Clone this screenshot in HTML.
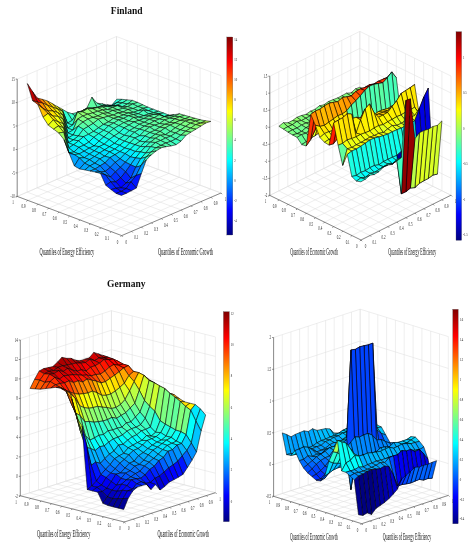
<!DOCTYPE html>
<html><head><meta charset="utf-8"><title>Finland Germany</title>
<style>
html,body{margin:0;padding:0;background:#fff}
svg{display:block}
.t{font-family:"Liberation Serif",serif;font-size:5.2px;fill:#222}
.c{font-family:"Liberation Serif",serif;font-size:4.8px;fill:#222}
.a{font-family:"Liberation Serif",serif;font-size:9.7px;fill:#111}
.h{font-family:"Liberation Serif",serif;font-size:9.5px;font-weight:bold;fill:#111}
</style></head><body>
<svg width="473" height="550" viewBox="0 0 473 550">
<rect width="473" height="550" fill="#fff"/>
<text x="126.7" y="14" class="h" text-anchor="middle">Finland</text>
<text x="126.3" y="287.3" class="h" text-anchor="middle">Germany</text>
<path d="M121.7 235.6L221 193M121.7 235.6L17.2 196.4M17.2 196.4L17.2 79.1M221 193L221 75.7M111.2 231.7L210.6 189.1M131.6 231.3L27.1 192.1M27.1 192.1L27.1 74.8M210.6 189.1L210.6 71.8M100.8 227.8L200.1 185.2M141.6 227.1L37.1 187.9M37.1 187.9L37.1 70.6M200.1 185.2L200.1 67.9M90.4 223.8L189.7 181.2M151.5 222.8L47 183.6M47 183.6L47 66.3M189.7 181.2L189.7 63.9M79.9 219.9L179.2 177.3M161.4 218.6L56.9 179.4M56.9 179.4L56.9 62.1M179.2 177.3L179.2 60M69.5 216L168.8 173.4M171.3 214.3L66.8 175.1M66.8 175.1L66.8 57.8M168.8 173.4L168.8 56.1M59 212.1L158.3 169.5M181.3 210L76.8 170.8M76.8 170.8L76.8 53.5M158.3 169.5L158.3 52.2M48.6 208.2L147.9 165.6M191.2 205.8L86.7 166.6M86.7 166.6L86.7 49.3M147.9 165.6L147.9 48.3M38.1 204.2L137.4 161.6M201.1 201.5L96.6 162.3M96.6 162.3L96.6 45M137.4 161.6L137.4 44.3M27.7 200.3L127 157.7M211.1 197.3L106.6 158.1M106.6 158.1L106.6 40.8M127 157.7L127 40.4M17.2 196.4L116.5 153.8M221 193L116.5 153.8M116.5 153.8L116.5 36.5M116.5 153.8L116.5 36.5M17.2 196.4L116.5 153.8M116.5 153.8L221 193M17.2 172.9L116.5 130.3M116.5 130.3L221 169.5M17.2 149.5L116.5 106.9M116.5 106.9L221 146.1M17.2 126L116.5 83.4M116.5 83.4L221 122.6M17.2 102.6L116.5 60M116.5 60L221 99.2M17.2 79.1L116.5 36.5M116.5 36.5L221 75.7" stroke="#dcdcdc" stroke-width="0.5" fill="none"/>
<path d="M17.2 79.1L17.2 196.4L121.7 235.6L221 193M121.7 235.6l-1.2 1.2M121.7 235.6l1.2 1.2M111.2 231.7l-1.2 1.2M131.6 231.3l1.2 1.2M100.8 227.8l-1.2 1.2M141.6 227.1l1.2 1.2M90.4 223.8l-1.2 1.2M151.5 222.8l1.2 1.2M79.9 219.9l-1.2 1.2M161.4 218.6l1.2 1.2M69.5 216l-1.2 1.2M171.3 214.3l1.2 1.2M59 212.1l-1.2 1.2M181.3 210l1.2 1.2M48.6 208.2l-1.2 1.2M191.2 205.8l1.2 1.2M38.1 204.2l-1.2 1.2M201.1 201.5l1.2 1.2M27.7 200.3l-1.2 1.2M211.1 197.3l1.2 1.2M17.2 196.4l-1.2 1.2M221 193l1.2 1.2M17.2 196.4l-1.5 0M17.2 172.9l-1.5 0M17.2 149.5l-1.5 0M17.2 126l-1.5 0M17.2 102.6l-1.5 0M17.2 79.1l-1.5 0" stroke="#444" stroke-width="0.6" fill="none"/>
<text transform="translate(117.5 243.6) scale(0.6 1)" class="t" text-anchor="middle">0</text>
<text transform="translate(126.2 243.6) scale(0.6 1)" class="t" text-anchor="middle">0</text>
<text transform="translate(107 239.7) scale(0.6 1)" class="t" text-anchor="middle">0.1</text>
<text transform="translate(136.1 239.3) scale(0.6 1)" class="t" text-anchor="middle">0.1</text>
<text transform="translate(96.6 235.8) scale(0.6 1)" class="t" text-anchor="middle">0.2</text>
<text transform="translate(146.1 235.1) scale(0.6 1)" class="t" text-anchor="middle">0.2</text>
<text transform="translate(86.2 231.8) scale(0.6 1)" class="t" text-anchor="middle">0.3</text>
<text transform="translate(156 230.8) scale(0.6 1)" class="t" text-anchor="middle">0.3</text>
<text transform="translate(75.7 227.9) scale(0.6 1)" class="t" text-anchor="middle">0.4</text>
<text transform="translate(165.9 226.6) scale(0.6 1)" class="t" text-anchor="middle">0.4</text>
<text transform="translate(65.2 224) scale(0.6 1)" class="t" text-anchor="middle">0.5</text>
<text transform="translate(175.8 222.3) scale(0.6 1)" class="t" text-anchor="middle">0.5</text>
<text transform="translate(54.8 220.1) scale(0.6 1)" class="t" text-anchor="middle">0.6</text>
<text transform="translate(185.8 218) scale(0.6 1)" class="t" text-anchor="middle">0.6</text>
<text transform="translate(44.4 216.2) scale(0.6 1)" class="t" text-anchor="middle">0.7</text>
<text transform="translate(195.7 213.8) scale(0.6 1)" class="t" text-anchor="middle">0.7</text>
<text transform="translate(33.9 212.2) scale(0.6 1)" class="t" text-anchor="middle">0.8</text>
<text transform="translate(205.6 209.5) scale(0.6 1)" class="t" text-anchor="middle">0.8</text>
<text transform="translate(23.5 208.3) scale(0.6 1)" class="t" text-anchor="middle">0.9</text>
<text transform="translate(215.6 205.3) scale(0.6 1)" class="t" text-anchor="middle">0.9</text>
<text transform="translate(13 204.4) scale(0.6 1)" class="t" text-anchor="middle">1</text>
<text transform="translate(225.5 201) scale(0.6 1)" class="t" text-anchor="middle">1</text>
<text transform="translate(14.7 198.1) scale(0.6 1)" class="t" text-anchor="end">-10</text>
<text transform="translate(14.7 174.6) scale(0.6 1)" class="t" text-anchor="end">-5</text>
<text transform="translate(14.7 151.2) scale(0.6 1)" class="t" text-anchor="end">0</text>
<text transform="translate(14.7 127.7) scale(0.6 1)" class="t" text-anchor="end">5</text>
<text transform="translate(14.7 104.3) scale(0.6 1)" class="t" text-anchor="end">10</text>
<text transform="translate(14.7 80.8) scale(0.6 1)" class="t" text-anchor="end">15</text>
<text transform="translate(66.9 254.8) scale(0.456 1)" class="a" text-anchor="middle">Quantiles of Energy Efficiency</text>
<text transform="translate(185.5 254.8) scale(0.455 1)" class="a" text-anchor="middle">Quantiles of Economic Growth</text>
<g stroke="#000" stroke-width="0.55" stroke-linejoin="round">
<path d="M117 102.5L111.8 105.1L116.8 99.2L122 99.3Z" fill="#27ffd8"/>
<path d="M122.2 102.9L117 102.5L122 99.3L127.2 99.9Z" fill="#38ffc7"/>
<path d="M112.1 106.2L106.8 104.9L111.8 105.1L117 102.5Z" fill="#16ffe9"/>
<path d="M127.5 104L122.2 102.9L127.2 99.9L132.4 100.4Z" fill="#42ffbd"/>
<path d="M117.3 105.2L112.1 106.2L117 102.5L122.2 102.9Z" fill="#37ffc8"/>
<path d="M107.1 106.2L101.9 103.8L106.8 104.9L112.1 106.2Z" fill="#2dffd2"/>
<path d="M132.7 104L127.5 104L132.4 100.4L137.7 102.4Z" fill="#57ffa8"/>
<path d="M122.5 106.7L117.3 105.2L122.2 102.9L127.5 104Z" fill="#3bffc4"/>
<path d="M112.3 106.1L107.1 106.2L112.1 106.2L117.3 105.2Z" fill="#44ffbb"/>
<path d="M102.1 105.7L96.9 103.1L101.9 103.8L107.1 106.2Z" fill="#4affb5"/>
<path d="M137.9 106.5L132.7 104L137.7 102.4L142.9 104.8Z" fill="#51ffae"/>
<path d="M127.7 106.6L122.5 106.7L127.5 104L132.7 104Z" fill="#52ffad"/>
<path d="M117.5 105.7L112.3 106.1L117.3 105.2L122.5 106.7Z" fill="#5effa1"/>
<path d="M107.3 106.5L102.1 105.7L107.1 106.2L112.3 106.1Z" fill="#57ffa8"/>
<path d="M97.2 107.4L91.9 97.2L96.9 103.1L102.1 105.7Z" fill="#4fffb0"/>
<path d="M143.1 108.3L137.9 106.5L142.9 104.8L148.1 107.2Z" fill="#53ffac"/>
<path d="M133 108.6L127.7 106.6L132.7 104L137.9 106.5Z" fill="#51ffae"/>
<path d="M102.4 107L97.2 107.4L102.1 105.7L107.3 106.5Z" fill="#68ff97"/>
<path d="M92.2 108.2L87 107.8L91.9 97.2L97.2 107.4Z" fill="#5dffa2"/>
<path d="M122.8 108.3L117.5 105.7L122.5 106.7L127.7 106.6Z" fill="#56ffa9"/>
<path d="M112.6 107.4L107.3 106.5L112.3 106.1L117.5 105.7Z" fill="#62ff9d"/>
<path d="M148.4 110.7L143.1 108.3L148.1 107.2L153.3 109.2Z" fill="#37ffc8"/>
<path d="M138.2 110.6L133 108.6L137.9 106.5L143.1 108.3Z" fill="#51ffae"/>
<path d="M97.4 107.6L92.2 108.2L97.2 107.4L102.4 107Z" fill="#79ff86"/>
<path d="M87.2 108.5L82 110.9L87 107.8L92.2 108.2Z" fill="#71ff8e"/>
<path d="M128 109.4L122.8 108.3L127.7 106.6L133 108.6Z" fill="#60ff9f"/>
<path d="M117.8 109.9L112.6 107.4L117.5 105.7L122.8 108.3Z" fill="#5cffa3"/>
<path d="M107.6 109.6L102.4 107L107.3 106.5L112.6 107.4Z" fill="#61ff9e"/>
<path d="M153.6 112.6L148.4 110.7L153.3 109.2L158.6 111.2Z" fill="#37ffc8"/>
<path d="M143.4 110.2L138.2 110.6L143.1 108.3L148.4 110.7Z" fill="#53ffac"/>
<path d="M133.2 112.3L128 109.4L133 108.6L138.2 110.6Z" fill="#55ffaa"/>
<path d="M123 112.1L117.8 109.9L122.8 108.3L128 109.4Z" fill="#5affa5"/>
<path d="M112.8 110.4L107.6 109.6L112.6 107.4L117.8 109.9Z" fill="#6eff91"/>
<path d="M102.6 110L97.4 107.6L102.4 107L107.6 109.6Z" fill="#75ff8a"/>
<path d="M92.5 108.7L87.2 108.5L92.2 108.2L97.4 107.6Z" fill="#85ff7a"/>
<path d="M82.3 110.8L77 112.5L82 110.9L87.2 108.5Z" fill="#6fff90"/>
<path d="M158.8 113.7L153.6 112.6L158.6 111.2L163.8 113.1Z" fill="#41ffbe"/>
<path d="M148.6 114L143.4 110.2L148.4 110.7L153.6 112.6Z" fill="#3fffc0"/>
<path d="M138.4 113.8L133.2 112.3L138.2 110.6L143.4 110.2Z" fill="#43ffbc"/>
<path d="M128.2 113L123 112.1L128 109.4L133.2 112.3Z" fill="#66ff99"/>
<path d="M118.1 112.9L112.8 110.4L117.8 109.9L123 112.1Z" fill="#68ff97"/>
<path d="M107.9 113L102.6 110L107.6 109.6L112.8 110.4Z" fill="#69ff96"/>
<path d="M97.7 111.3L92.5 108.7L97.4 107.6L102.6 110Z" fill="#7dff82"/>
<path d="M87.5 108.6L82.3 110.8L87.2 108.5L92.5 108.7Z" fill="#9dff62"/>
<path d="M77.3 117.3L72.1 113.7L77 112.5L82.3 110.8Z" fill="#3fffc0"/>
<path d="M164 116.6L158.8 113.7L163.8 113.1L169 115.1Z" fill="#36ffc9"/>
<path d="M153.9 114.4L148.6 114L153.6 112.6L158.8 113.7Z" fill="#50ffaf"/>
<path d="M143.7 115.7L138.4 113.8L143.4 110.2L148.6 114Z" fill="#44ffbb"/>
<path d="M133.5 114.6L128.2 113L133.2 112.3L138.4 113.8Z" fill="#52ffad"/>
<path d="M123.3 115L118.1 112.9L123 112.1L128.2 113Z" fill="#66ff99"/>
<path d="M113.1 115.1L107.9 113L112.8 110.4L118.1 112.9Z" fill="#67ff98"/>
<path d="M102.9 113.3L97.7 111.3L102.6 110L107.9 113Z" fill="#7dff82"/>
<path d="M92.7 112.9L87.5 108.6L92.5 108.7L97.7 111.3Z" fill="#83ff7c"/>
<path d="M82.5 111.9L77.3 117.3L82.3 110.8L87.5 108.6Z" fill="#90ff6f"/>
<path d="M72.3 120.3L67.1 112.1L72.1 113.7L77.3 117.3Z" fill="#36ffc9"/>
<path d="M169.3 115.9L164 116.6L169 115.1L174.2 114.7Z" fill="#53ffac"/>
<path d="M159.1 114.8L153.9 114.4L158.8 113.7L164 116.6Z" fill="#61ff9e"/>
<path d="M128.5 115.8L123.3 115L128.2 113L133.5 114.6Z" fill="#5cffa3"/>
<path d="M118.3 117L113.1 115.1L118.1 112.9L123.3 115Z" fill="#68ff97"/>
<path d="M108.1 116.2L102.9 113.3L107.9 113L113.1 115.1Z" fill="#73ff8c"/>
<path d="M77.6 111.9L72.3 120.3L77.3 117.3L82.5 111.9Z" fill="#a7ff58"/>
<path d="M67.4 123.2L62.1 109.1L67.1 112.1L72.3 120.3Z" fill="#2dffd2"/>
<path d="M148.9 116L143.7 115.7L148.6 114L153.9 114.4Z" fill="#56ffa9"/>
<path d="M138.7 117.2L133.5 114.6L138.4 113.8L143.7 115.7Z" fill="#4bffb4"/>
<path d="M97.9 116L92.7 112.9L97.7 111.3L102.9 113.3Z" fill="#77ff88"/>
<path d="M87.8 114.2L82.5 111.9L87.5 108.6L92.7 112.9Z" fill="#8cff73"/>
<path d="M174.5 116.3L169.3 115.9L174.2 114.7L179.5 113.8Z" fill="#65ff9a"/>
<path d="M123.5 118.4L118.3 117L123.3 115L128.5 115.8Z" fill="#57ffa8"/>
<path d="M113.4 118.4L108.1 116.2L113.1 115.1L118.3 117Z" fill="#70ff8f"/>
<path d="M62.4 111.2L57.2 106.5L62.1 109.1L67.4 123.2Z" fill="#c8ff37"/>
<path d="M164.3 116.7L159.1 114.8L164 116.6L169.3 115.9Z" fill="#62ff9d"/>
<path d="M154.1 117.8L148.9 116L153.9 114.4L159.1 114.8Z" fill="#58ffa7"/>
<path d="M143.9 118.5L138.7 117.2L143.7 115.7L148.9 116Z" fill="#52ffad"/>
<path d="M133.7 117.4L128.5 115.8L133.5 114.6L138.7 117.2Z" fill="#60ff9f"/>
<path d="M103.2 117.8L97.9 116L102.9 113.3L108.1 116.2Z" fill="#79ff86"/>
<path d="M93 117.4L87.8 114.2L92.7 112.9L97.9 116Z" fill="#7fff80"/>
<path d="M82.8 116L77.6 111.9L82.5 111.9L87.8 114.2Z" fill="#90ff6f"/>
<path d="M72.6 125.2L67.4 123.2L72.3 120.3L77.6 111.9Z" fill="#2dffd2"/>
<path d="M179.7 116.8L174.5 116.3L179.5 113.8L184.7 115.3Z" fill="#75ff8a"/>
<path d="M169.5 118.2L164.3 116.7L169.3 115.9L174.5 116.3Z" fill="#67ff98"/>
<path d="M159.3 119.1L154.1 117.8L159.1 114.8L164.3 116.7Z" fill="#5fffa0"/>
<path d="M149.2 119.3L143.9 118.5L148.9 116L154.1 117.8Z" fill="#5fffa0"/>
<path d="M139 120.4L133.7 117.4L138.7 117.2L143.9 118.5Z" fill="#54ffab"/>
<path d="M128.8 121L123.5 118.4L128.5 115.8L133.7 117.4Z" fill="#50ffaf"/>
<path d="M118.6 120L113.4 118.4L118.3 117L123.5 118.4Z" fill="#5cffa3"/>
<path d="M108.4 121.9L103.2 117.8L108.1 116.2L113.4 118.4Z" fill="#61ff9e"/>
<path d="M98.2 119.3L93 117.4L97.9 116L103.2 117.8Z" fill="#7fff80"/>
<path d="M88 119L82.8 116L87.8 114.2L93 117.4Z" fill="#84ff7b"/>
<path d="M77.8 118.9L72.6 125.2L77.6 111.9L82.8 116Z" fill="#88ff77"/>
<path d="M67.6 128.1L62.4 111.2L67.4 123.2L72.6 125.2Z" fill="#24ffdb"/>
<path d="M57.4 108.9L52.2 103.5L57.2 106.5L62.4 111.2Z" fill="#f9ff06"/>
<path d="M184.9 118.8L179.7 116.8L184.7 115.3L189.9 116.8Z" fill="#74ff8b"/>
<path d="M52.5 107.1L47.3 100.9L52.2 103.5L57.4 108.9Z" fill="#ffd900"/>
<path d="M174.8 118.9L169.5 118.2L174.5 116.3L179.7 116.8Z" fill="#75ff8a"/>
<path d="M164.6 120L159.3 119.1L164.3 116.7L169.5 118.2Z" fill="#6bff94"/>
<path d="M144.2 122.3L139 120.4L143.9 118.5L149.2 119.3Z" fill="#55ffaa"/>
<path d="M134 121.9L128.8 121L133.7 117.4L139 120.4Z" fill="#5cffa3"/>
<path d="M123.8 122.6L118.6 120L123.5 118.4L128.8 121Z" fill="#56ffa9"/>
<path d="M113.6 123.1L108.4 121.9L113.4 118.4L118.6 120Z" fill="#52ffad"/>
<path d="M103.4 124.4L98.2 119.3L103.2 117.8L108.4 121.9Z" fill="#5cffa3"/>
<path d="M93.2 123.4L88 119L93 117.4L98.2 119.3Z" fill="#6aff95"/>
<path d="M72.9 130.1L67.6 128.1L72.6 125.2L77.8 118.9Z" fill="#24ffdb"/>
<path d="M62.7 114.9L57.4 108.9L62.4 111.2L67.6 128.1Z" fill="#ccff33"/>
<path d="M154.4 121L149.2 119.3L154.1 117.8L159.3 119.1Z" fill="#62ff9d"/>
<path d="M83 122L77.8 118.9L82.8 116L88 119Z" fill="#7bff84"/>
<path d="M190.2 119.8L184.9 118.8L189.9 116.8L195.1 118.3Z" fill="#7fff80"/>
<path d="M47.5 105.3L42.3 99.3L47.3 100.9L52.5 107.1Z" fill="#ffaf00"/>
<path d="M180 120.4L174.8 118.9L179.7 116.8L184.9 118.8Z" fill="#7bff84"/>
<path d="M169.8 122.5L164.6 120L169.5 118.2L174.8 118.9Z" fill="#65ff9a"/>
<path d="M159.6 123.5L154.4 121L159.3 119.1L164.6 120Z" fill="#5cffa3"/>
<path d="M149.4 123.8L144.2 122.3L149.2 119.3L154.4 121Z" fill="#5bffa4"/>
<path d="M139.2 124.3L134 121.9L139 120.4L144.2 122.3Z" fill="#57ffa8"/>
<path d="M129 125.1L123.8 122.6L128.8 121L134 121.9Z" fill="#50ffaf"/>
<path d="M118.8 125.6L113.6 123.1L118.6 120L123.8 122.6Z" fill="#4cffb3"/>
<path d="M108.7 125.8L103.4 124.4L108.4 121.9L113.6 123.1Z" fill="#4cffb3"/>
<path d="M98.5 127.8L93.2 123.4L98.2 119.3L103.4 124.4Z" fill="#4fffb0"/>
<path d="M88.3 126.4L83 122L88 119L93.2 123.4Z" fill="#60ff9f"/>
<path d="M78.1 126.1L72.9 130.1L77.8 118.9L83 122Z" fill="#65ff9a"/>
<path d="M67.9 133L62.7 114.9L67.6 128.1L72.9 130.1Z" fill="#1bffe4"/>
<path d="M57.7 112.6L52.5 107.1L57.4 108.9L62.7 114.9Z" fill="#feff01"/>
<path d="M195.4 121.1L190.2 119.8L195.1 118.3L200.4 119.8Z" fill="#86ff79"/>
<path d="M185.2 121.1L180 120.4L184.9 118.8L190.2 119.8Z" fill="#87ff78"/>
<path d="M175 122.9L169.8 122.5L174.8 118.9L180 120.4Z" fill="#76ff89"/>
<path d="M154.6 125.2L149.4 123.8L154.4 121L159.6 123.5Z" fill="#60ff9f"/>
<path d="M144.4 126.2L139.2 124.3L144.2 122.3L149.4 123.8Z" fill="#57ffa8"/>
<path d="M134.3 127.8L129 125.1L134 121.9L139.2 124.3Z" fill="#48ffb7"/>
<path d="M103.7 130.3L98.5 127.8L103.4 124.4L108.7 125.8Z" fill="#32ffcd"/>
<path d="M93.5 131.4L88.3 126.4L93.2 123.4L98.5 127.8Z" fill="#3fffc0"/>
<path d="M83.3 129.3L78.1 126.1L83 122L88.3 126.4Z" fill="#58ffa7"/>
<path d="M62.9 119L57.7 112.6L62.7 114.9L67.9 133Z" fill="#cdff32"/>
<path d="M52.7 110.9L47.5 105.3L52.5 107.1L57.7 112.6Z" fill="#ffd600"/>
<path d="M42.5 103L37.3 98.1L42.3 99.3L47.5 105.3Z" fill="#ff7e00"/>
<path d="M164.8 124.3L159.6 123.5L164.6 120L169.8 122.5Z" fill="#69ff96"/>
<path d="M124.1 127.9L118.8 125.6L123.8 122.6L129 125.1Z" fill="#49ffb6"/>
<path d="M113.9 128.6L108.7 125.8L113.6 123.1L118.8 125.6Z" fill="#43ffbc"/>
<path d="M73.1 135L67.9 133L72.9 130.1L78.1 126.1Z" fill="#1bffe4"/>
<path d="M200.6 123.2L195.4 121.1L200.4 119.8L205.6 120.8Z" fill="#84ff7b"/>
<path d="M190.4 123.2L185.2 121.1L190.2 119.8L195.4 121.1Z" fill="#86ff79"/>
<path d="M180.2 124.5L175 122.9L180 120.4L185.2 121.1Z" fill="#7aff85"/>
<path d="M149.7 127.1L144.4 126.2L149.4 123.8L154.6 125.2Z" fill="#63ff9c"/>
<path d="M88.5 134.3L83.3 129.3L88.3 126.4L93.5 131.4Z" fill="#37ffc8"/>
<path d="M58 116.3L52.7 110.9L57.7 112.6L62.9 119Z" fill="#fffc00"/>
<path d="M47.8 110.9L42.5 103L47.5 105.3L52.7 110.9Z" fill="#ffbf00"/>
<path d="M37.6 102.2L32.4 91.3L37.3 98.1L42.5 103Z" fill="#e70000"/>
<path d="M170.1 125.1L164.8 124.3L169.8 122.5L175 122.9Z" fill="#75ff8a"/>
<path d="M159.9 127.2L154.6 125.2L159.6 123.5L164.8 124.3Z" fill="#60ff9f"/>
<path d="M139.5 129.2L134.3 127.8L139.2 124.3L144.4 126.2Z" fill="#4effb1"/>
<path d="M129.3 130.6L124.1 127.9L129 125.1L134.3 127.8Z" fill="#41ffbe"/>
<path d="M119.1 132.7L113.9 128.6L118.8 125.6L124.1 127.9Z" fill="#2cffd3"/>
<path d="M108.9 132.5L103.7 130.3L108.7 125.8L113.9 128.6Z" fill="#30ffcf"/>
<path d="M98.7 133.6L93.5 131.4L98.5 127.8L103.7 130.3Z" fill="#25ffda"/>
<path d="M78.3 136L73.1 135L78.1 126.1L83.3 129.3Z" fill="#26ffd9"/>
<path d="M68.2 138L62.9 119L67.9 133L73.1 135Z" fill="#12ffed"/>
<path d="M205.8 123L200.6 123.2L205.6 120.8L210.8 121.4Z" fill="#b3ff4c"/>
<path d="M195.7 124.6L190.4 123.2L195.4 121.1L200.6 123.2Z" fill="#8cff73"/>
<path d="M185.5 126.4L180.2 124.5L185.2 121.1L190.4 123.2Z" fill="#7bff84"/>
<path d="M165.1 128L159.9 127.2L164.8 124.3L170.1 125.1Z" fill="#6dff92"/>
<path d="M154.9 130.3L149.7 127.1L154.6 125.2L159.9 127.2Z" fill="#56ffa9"/>
<path d="M144.7 130.6L139.5 129.2L144.4 126.2L149.7 127.1Z" fill="#54ffab"/>
<path d="M93.8 137.3L88.5 134.3L93.5 131.4L98.7 133.6Z" fill="#2bffd4"/>
<path d="M83.6 136.7L78.3 136L83.3 129.3L88.5 134.3Z" fill="#33ffcc"/>
<path d="M73.4 139.9L68.2 138L73.1 135L78.3 136Z" fill="#12ffed"/>
<path d="M53 116.1L47.8 110.9L52.7 110.9L58 116.3Z" fill="#ffe300"/>
<path d="M42.8 108.4L37.6 102.2L42.5 103L47.8 110.9Z" fill="#ff8c00"/>
<path d="M32.6 100.6L27.4 83.6L32.4 91.3L37.6 102.2Z" fill="#c20000"/>
<path d="M175.3 127.8L170.1 125.1L175 122.9L180.2 124.5Z" fill="#6dff92"/>
<path d="M134.5 132.3L129.3 130.6L134.3 127.8L139.5 129.2Z" fill="#44ffbb"/>
<path d="M124.3 135.3L119.1 132.7L124.1 127.9L129.3 130.6Z" fill="#24ffdb"/>
<path d="M114.1 136L108.9 132.5L113.9 128.6L119.1 132.7Z" fill="#35ffca"/>
<path d="M103.9 136.9L98.7 133.6L103.7 130.3L108.9 132.5Z" fill="#2dffd2"/>
<path d="M63.2 123.7L58 116.3L62.9 119L68.2 138Z" fill="#c5ff3a"/>
<path d="M160.1 131.4L154.9 130.3L159.9 127.2L165.1 128Z" fill="#5fffa0"/>
<path d="M78.6 140.9L73.4 139.9L78.3 136L83.6 136.7Z" fill="#1dffe2"/>
<path d="M200.9 126.1L195.7 124.6L200.6 123.2L205.8 123Z" fill="#a9ff56"/>
<path d="M190.7 128.1L185.5 126.4L190.4 123.2L195.7 124.6Z" fill="#7eff81"/>
<path d="M180.5 129.9L175.3 127.8L180.2 124.5L185.5 126.4Z" fill="#6cff93"/>
<path d="M170.3 131.5L165.1 128L170.1 125.1L175.3 127.8Z" fill="#5cffa3"/>
<path d="M149.9 132.5L144.7 130.6L149.7 127.1L154.9 130.3Z" fill="#54ffab"/>
<path d="M139.7 135.7L134.5 132.3L139.5 129.2L144.7 130.6Z" fill="#34ffcb"/>
<path d="M119.4 139L114.1 136L119.1 132.7L124.3 135.3Z" fill="#2affd5"/>
<path d="M99 141.1L93.8 137.3L98.7 133.6L103.9 136.9Z" fill="#17ffe8"/>
<path d="M88.8 142.1L83.6 136.7L88.5 134.3L93.8 137.3Z" fill="#0efff1"/>
<path d="M68.4 142.9L63.2 123.7L68.2 138L73.4 139.9Z" fill="#09fff6"/>
<path d="M58.2 121.8L53 116.1L58 116.3L63.2 123.7Z" fill="#f3ff0c"/>
<path d="M48 113.4L42.8 108.4L47.8 110.9L53 116.1Z" fill="#ffae00"/>
<path d="M37.8 104.4L32.6 100.6L37.6 102.2L42.8 108.4Z" fill="#ff4900"/>
<path d="M129.6 136.4L124.3 135.3L129.3 130.6L134.5 132.3Z" fill="#2dffd2"/>
<path d="M109.2 139.6L103.9 136.9L108.9 132.5L114.1 136Z" fill="#26ffd9"/>
<path d="M165.3 134.7L160.1 131.4L165.1 128L170.3 131.5Z" fill="#50ffaf"/>
<path d="M155.2 134.3L149.9 132.5L154.9 130.3L160.1 131.4Z" fill="#56ffa9"/>
<path d="M83.8 145.2L78.6 140.9L83.6 136.7L88.8 142.1Z" fill="#03fffc"/>
<path d="M73.6 144.8L68.4 142.9L73.4 139.9L78.6 140.9Z" fill="#09fff6"/>
<path d="M195.9 129.2L190.7 128.1L195.7 124.6L200.9 126.1Z" fill="#87ff78"/>
<path d="M185.7 131.2L180.5 129.9L185.5 126.4L190.7 128.1Z" fill="#73ff8c"/>
<path d="M175.5 133L170.3 131.5L175.3 127.8L180.5 129.9Z" fill="#61ff9e"/>
<path d="M145 136L139.7 135.7L144.7 130.6L149.9 132.5Z" fill="#45ffba"/>
<path d="M134.8 138L129.6 136.4L134.5 132.3L139.7 135.7Z" fill="#32ffcd"/>
<path d="M124.6 141.2L119.4 139L124.3 135.3L129.6 136.4Z" fill="#27ffd8"/>
<path d="M114.4 143.4L109.2 139.6L114.1 136L119.4 139Z" fill="#12ffed"/>
<path d="M104.2 144.2L99 141.1L103.9 136.9L109.2 139.6Z" fill="#0afff5"/>
<path d="M94 145.9L88.8 142.1L93.8 137.3L99 141.1Z" fill="#00f9ff"/>
<path d="M63.4 127.8L58.2 121.8L63.2 123.7L68.4 142.9Z" fill="#c6ff39"/>
<path d="M53.3 119.8L48 113.4L53 116.1L58.2 121.8Z" fill="#ffde00"/>
<path d="M43.1 117.2L37.8 104.4L42.8 108.4L48 113.4Z" fill="#ffc000"/>
<path d="M170.6 136.2L165.3 134.7L170.3 131.5L175.5 133Z" fill="#56ffa9"/>
<path d="M68.7 147.8L63.4 127.8L68.4 142.9L73.6 144.8Z" fill="#00ffff"/>
<path d="M180.8 135.2L175.5 133L180.5 129.9L185.7 131.2Z" fill="#5fffa0"/>
<path d="M160.4 135.3L155.2 134.3L160.1 131.4L165.3 134.7Z" fill="#61ff9e"/>
<path d="M150.2 138L145 136L149.9 132.5L155.2 134.3Z" fill="#45ffba"/>
<path d="M129.8 142.9L124.6 141.2L129.6 136.4L134.8 138Z" fill="#2bffd4"/>
<path d="M109.4 146.7L104.2 144.2L109.2 139.6L114.4 143.4Z" fill="#04fffb"/>
<path d="M89.1 148.1L83.8 145.2L88.8 142.1L94 145.9Z" fill="#00f7ff"/>
<path d="M78.9 147.4L73.6 144.8L78.6 140.9L83.8 145.2Z" fill="#02fffd"/>
<path d="M58.5 125.9L53.3 119.8L58.2 121.8L63.4 127.8Z" fill="#f2ff0d"/>
<path d="M190.9 132.2L185.7 131.2L190.7 128.1L195.9 129.2Z" fill="#7dff82"/>
<path d="M140 141.2L134.8 138L139.7 135.7L145 136Z" fill="#24ffdb"/>
<path d="M119.6 145.3L114.4 143.4L119.4 139L124.6 141.2Z" fill="#12ffed"/>
<path d="M99.2 146.6L94 145.9L99 141.1L104.2 144.2Z" fill="#07fff8"/>
<path d="M48.3 125.2L43.1 117.2L48 113.4L53.3 119.8Z" fill="#fbff04"/>
<path d="M186 135.3L180.8 135.2L185.7 131.2L190.9 132.2Z" fill="#73ff8c"/>
<path d="M175.8 139L170.6 136.2L175.5 133L180.8 135.2Z" fill="#4cffb3"/>
<path d="M165.6 138.1L160.4 135.3L165.3 134.7L170.6 136.2Z" fill="#58ffa7"/>
<path d="M73.9 152L68.7 147.8L73.6 144.8L78.9 147.4Z" fill="#00e6ff"/>
<path d="M63.7 132.3L58.5 125.9L63.4 127.8L68.7 147.8Z" fill="#c1ff3e"/>
<path d="M53.5 129.1L48.3 125.2L53.3 119.8L58.5 125.9Z" fill="#e7ff18"/>
<path d="M155.4 138.3L150.2 138L155.2 134.3L160.4 135.3Z" fill="#58ffa7"/>
<path d="M145.2 142L140 141.2L145 136L150.2 138Z" fill="#30ffcf"/>
<path d="M135 144.7L129.8 142.9L134.8 138L140 141.2Z" fill="#2cffd3"/>
<path d="M124.8 148L119.6 145.3L124.6 141.2L129.8 142.9Z" fill="#09fff6"/>
<path d="M114.7 149.1L109.4 146.7L114.4 143.4L119.6 145.3Z" fill="#00feff"/>
<path d="M104.5 149.9L99.2 146.6L104.2 144.2L109.4 146.7Z" fill="#00f8ff"/>
<path d="M94.3 150.8L89.1 148.1L94 145.9L99.2 146.6Z" fill="#00efff"/>
<path d="M84.1 151.2L78.9 147.4L83.8 145.2L89.1 148.1Z" fill="#00edff"/>
<path d="M181 141.2L175.8 139L180.8 135.2L186 135.3Z" fill="#49ffb6"/>
<path d="M170.8 141.4L165.6 138.1L170.6 136.2L175.8 139Z" fill="#49ffb6"/>
<path d="M160.6 140.5L155.4 138.3L160.4 135.3L165.6 138.1Z" fill="#54ffab"/>
<path d="M140.3 146.5L135 144.7L140 141.2L145.2 142Z" fill="#2effd1"/>
<path d="M119.9 151.6L114.7 149.1L119.6 145.3L124.8 148Z" fill="#00f8ff"/>
<path d="M99.5 153L94.3 150.8L99.2 146.6L104.5 149.9Z" fill="#00edff"/>
<path d="M79.1 154L73.9 152L78.9 147.4L84.1 151.2Z" fill="#00e5ff"/>
<path d="M68.9 152.7L63.7 132.3L68.7 147.8L73.9 152Z" fill="#00f6ff"/>
<path d="M58.7 132.9L53.5 129.1L58.5 125.9L63.7 132.3Z" fill="#d2ff2d"/>
<path d="M150.4 142.2L145.2 142L150.2 138L155.4 138.3Z" fill="#44ffbb"/>
<path d="M130.1 149.4L124.8 148L129.8 142.9L135 144.7Z" fill="#0ffff0"/>
<path d="M109.7 151.9L104.5 149.9L109.4 146.7L114.7 149.1Z" fill="#00f7ff"/>
<path d="M89.3 154.1L84.1 151.2L89.1 148.1L94.3 150.8Z" fill="#00e3ff"/>
<path d="M176.1 144.7L170.8 141.4L175.8 139L181 141.2Z" fill="#3affc5"/>
<path d="M165.9 143L160.6 140.5L165.6 138.1L170.8 141.4Z" fill="#4fffb0"/>
<path d="M155.7 142.5L150.4 142.2L155.4 138.3L160.6 140.5Z" fill="#56ffa9"/>
<path d="M145.5 146.7L140.3 146.5L145.2 142L150.4 142.2Z" fill="#2affd5"/>
<path d="M135.3 151.5L130.1 149.4L135 144.7L140.3 146.5Z" fill="#0efff1"/>
<path d="M125.1 153.6L119.9 151.6L124.8 148L130.1 149.4Z" fill="#00f8ff"/>
<path d="M114.9 154.7L109.7 151.9L114.7 149.1L119.9 151.6Z" fill="#00eeff"/>
<path d="M104.7 156.2L99.5 153L104.5 149.9L109.7 151.9Z" fill="#00dfff"/>
<path d="M94.5 156.5L89.3 154.1L94.3 150.8L99.5 153Z" fill="#00deff"/>
<path d="M84.3 157.7L79.1 154L84.1 151.2L89.3 154.1Z" fill="#00d3ff"/>
<path d="M74.2 154.6L68.9 152.7L73.9 152L79.1 154Z" fill="#00f6ff"/>
<path d="M64 139.6L58.7 132.9L63.7 132.3L68.9 152.7Z" fill="#9eff61"/>
<path d="M130.3 156.8L125.1 153.6L130.1 149.4L135.3 151.5Z" fill="#00eaff"/>
<path d="M110 157.6L104.7 156.2L109.7 151.9L114.9 154.7Z" fill="#00e6ff"/>
<path d="M171.1 145.9L165.9 143L170.8 141.4L176.1 144.7Z" fill="#44ffbb"/>
<path d="M160.9 145.4L155.7 142.5L160.6 140.5L165.9 143Z" fill="#4cffb3"/>
<path d="M150.7 146.6L145.5 146.7L150.4 142.2L155.7 142.5Z" fill="#40ffbf"/>
<path d="M140.5 151.9L135.3 151.5L140.3 146.5L145.5 146.7Z" fill="#1fffe0"/>
<path d="M120.1 158.8L114.9 154.7L119.9 151.6L125.1 153.6Z" fill="#00d7ff"/>
<path d="M99.8 158.9L94.5 156.5L99.5 153L104.7 156.2Z" fill="#00d9ff"/>
<path d="M89.6 159.7L84.3 157.7L89.3 154.1L94.5 156.5Z" fill="#00d2ff"/>
<path d="M79.4 157.9L74.2 154.6L79.1 154L84.3 157.7Z" fill="#00e8ff"/>
<path d="M69.2 153.3L64 139.6L68.9 152.7L74.2 154.6Z" fill="#1effe1"/>
<path d="M155.9 147.8L150.7 146.6L155.7 142.5L160.9 145.4Z" fill="#49ffb6"/>
<path d="M135.6 157.9L130.3 156.8L135.3 151.5L140.5 151.9Z" fill="#00f4ff"/>
<path d="M125.4 162.2L120.1 158.8L125.1 153.6L130.3 156.8Z" fill="#00c6ff"/>
<path d="M115.2 162.4L110 157.6L114.9 154.7L120.1 158.8Z" fill="#00adff"/>
<path d="M105 162.9L99.8 158.9L104.7 156.2L110 157.6Z" fill="#00c3ff"/>
<path d="M84.6 163.2L79.4 157.9L84.3 157.7L89.6 159.7Z" fill="#00c3ff"/>
<path d="M166.1 146.7L160.9 145.4L165.9 143L171.1 145.9Z" fill="#54ffab"/>
<path d="M145.7 153L140.5 151.9L145.5 146.7L150.7 146.6Z" fill="#29ffd6"/>
<path d="M94.8 163.2L89.6 159.7L94.5 156.5L99.8 158.9Z" fill="#00c1ff"/>
<path d="M74.4 166L69.2 153.3L74.2 154.6L79.4 157.9Z" fill="#00a6ff"/>
<path d="M161.2 147.8L155.9 147.8L160.9 145.4L166.1 146.7Z" fill="#5effa1"/>
<path d="M140.8 158.5L135.6 157.9L140.5 151.9L145.7 153Z" fill="#04fffb"/>
<path d="M120.4 167.4L115.2 162.4L120.1 158.8L125.4 162.2Z" fill="#008bff"/>
<path d="M100 165.8L94.8 163.2L99.8 158.9L105 162.9Z" fill="#00bbff"/>
<path d="M79.6 168.9L74.4 166L79.4 157.9L84.6 163.2Z" fill="#009cff"/>
<path d="M151 152.1L145.7 153L150.7 146.6L155.9 147.8Z" fill="#31ffce"/>
<path d="M130.6 164.8L125.4 162.2L130.3 156.8L135.6 157.9Z" fill="#00bfff"/>
<path d="M110.2 167.5L105 162.9L110 157.6L115.2 162.4Z" fill="#008cff"/>
<path d="M89.8 165.9L84.6 163.2L89.6 159.7L94.8 163.2Z" fill="#00baff"/>
<path d="M146 157.1L140.8 158.5L145.7 153L151 152.1Z" fill="#29ffd6"/>
<path d="M125.6 171.8L120.4 167.4L125.4 162.2L130.6 164.8Z" fill="#0070ff"/>
<path d="M115.4 171.8L110.2 167.5L115.2 162.4L120.4 167.4Z" fill="#0072ff"/>
<path d="M95.1 169.1L89.8 165.9L94.8 163.2L100 165.8Z" fill="#00adff"/>
<path d="M156.2 150.9L151 152.1L155.9 147.8L161.2 147.8Z" fill="#54ffab"/>
<path d="M135.8 167.2L130.6 164.8L135.6 157.9L140.8 158.5Z" fill="#00bbff"/>
<path d="M105.2 171.4L100 165.8L105 162.9L110.2 167.5Z" fill="#0078ff"/>
<path d="M84.9 169.9L79.6 168.9L84.6 163.2L89.8 165.9Z" fill="#00a6ff"/>
<path d="M151.2 154.9L146 157.1L151 152.1L156.2 150.9Z" fill="#56ffa9"/>
<path d="M130.8 178.2L125.6 171.8L130.6 164.8L135.8 167.2Z" fill="#0040ff"/>
<path d="M120.7 177.9L115.4 171.8L120.4 167.4L125.6 171.8Z" fill="#0045ff"/>
<path d="M110.5 177.1L105.2 171.4L110.2 167.5L115.4 171.8Z" fill="#0050ff"/>
<path d="M90.1 171L84.9 169.9L89.8 165.9L95.1 169.1Z" fill="#00b0ff"/>
<path d="M141 165.7L135.8 167.2L140.8 158.5L146 157.1Z" fill="#00e1ff"/>
<path d="M100.3 172L95.1 169.1L100 165.8L105.2 171.4Z" fill="#0089ff"/>
<path d="M136.1 175.5L130.8 178.2L135.8 167.2L141 165.7Z" fill="#0073ff"/>
<path d="M125.9 183.2L120.7 177.9L125.6 171.8L130.8 178.2Z" fill="#0020ff"/>
<path d="M115.7 181.9L110.5 177.1L115.4 171.8L120.7 177.9Z" fill="#0030ff"/>
<path d="M105.5 174.9L100.3 172L105.2 171.4L110.5 177.1Z" fill="#007fff"/>
<path d="M146.3 159.9L141 165.7L146 157.1L151.2 154.9Z" fill="#37ffc8"/>
<path d="M95.3 172L90.1 171L95.1 169.1L100.3 172Z" fill="#00a1ff"/>
<path d="M141.3 173.7L136.1 175.5L141 165.7L146.3 159.9Z" fill="#009cff"/>
<path d="M100.5 173.5L95.3 172L100.3 172L105.5 174.9Z" fill="#00a6ff"/>
<path d="M131.1 181.9L125.9 183.2L130.8 178.2L136.1 175.5Z" fill="#0043ff"/>
<path d="M120.9 187.8L115.7 181.9L120.7 177.9L125.9 183.2Z" fill="#0005ff"/>
<path d="M110.7 181.8L105.5 174.9L110.5 177.1L115.7 181.9Z" fill="#0049ff"/>
<path d="M136.3 188.1L131.1 181.9L136.1 175.5L141.3 173.7Z" fill="#0016ff"/>
<path d="M105.8 185.3L100.5 173.5L105.5 174.9L110.7 181.8Z" fill="#003aff"/>
<path d="M126.1 188.5L120.9 187.8L125.9 183.2L131.1 181.9Z" fill="#0013ff"/>
<path d="M116 188.2L110.7 181.8L115.7 181.9L120.9 187.8Z" fill="#0018ff"/>
<path d="M131.4 190.7L126.1 188.5L131.1 181.9L136.3 188.1Z" fill="#0011ff"/>
<path d="M121.2 191.4L116 188.2L120.9 187.8L126.1 188.5Z" fill="#000aff"/>
<path d="M111 189.6L105.8 185.3L110.7 181.8L116 188.2Z" fill="#0020ff"/>
<path d="M126.4 193.3L121.2 191.4L126.1 188.5L131.4 190.7Z" fill="#000cff"/>
<path d="M116.2 193.4L111 189.6L116 188.2L121.2 191.4Z" fill="#000cff"/>
<path d="M121.4 195.4L116.2 193.4L121.2 191.4L126.4 193.3Z" fill="#000cff"/>
</g>
<defs><linearGradient id="cb1" x1="0" y1="0" x2="0" y2="1"><stop offset="0%" stop-color="#800000"/><stop offset="6.2%" stop-color="#bf0000"/><stop offset="12.5%" stop-color="#ff0000"/><stop offset="18.8%" stop-color="#ff4000"/><stop offset="25%" stop-color="#ff8000"/><stop offset="31.2%" stop-color="#ffbf00"/><stop offset="37.5%" stop-color="#ffff00"/><stop offset="43.8%" stop-color="#bfff40"/><stop offset="50%" stop-color="#80ff80"/><stop offset="56.2%" stop-color="#40ffbf"/><stop offset="62.5%" stop-color="#00ffff"/><stop offset="68.8%" stop-color="#00bfff"/><stop offset="75%" stop-color="#0080ff"/><stop offset="81.2%" stop-color="#0040ff"/><stop offset="87.5%" stop-color="#0000ff"/><stop offset="93.8%" stop-color="#0000bf"/><stop offset="100%" stop-color="#000080"/></linearGradient></defs>
<rect x="226.8" y="37" width="6" height="198" fill="url(#cb1)" stroke="#555" stroke-width="0.3"/>
<text transform="translate(234.3 41.2) scale(0.6 1)" class="c" text-anchor="start">14</text>
<text transform="translate(234.3 61.2) scale(0.6 1)" class="c" text-anchor="start">12</text>
<text transform="translate(234.3 81.3) scale(0.6 1)" class="c" text-anchor="start">10</text>
<text transform="translate(234.3 101.4) scale(0.6 1)" class="c" text-anchor="start">8</text>
<text transform="translate(234.3 121.4) scale(0.6 1)" class="c" text-anchor="start">6</text>
<text transform="translate(234.3 141.4) scale(0.6 1)" class="c" text-anchor="start">4</text>
<text transform="translate(234.3 161.5) scale(0.6 1)" class="c" text-anchor="start">2</text>
<text transform="translate(234.3 181.6) scale(0.6 1)" class="c" text-anchor="start">0</text>
<text transform="translate(234.3 201.6) scale(0.6 1)" class="c" text-anchor="start">-2</text>
<text transform="translate(234.3 221.7) scale(0.6 1)" class="c" text-anchor="start">-4</text>
<path d="M124.3 522L215.4 492.7M124.3 522L20.3 495.8M20.3 495.8L20.3 340M215.4 492.7L215.4 336.9M113.9 519.4L205 490.1M133.4 519.1L29.4 492.9M29.4 492.9L29.4 337.1M205 490.1L205 334.3M103.5 516.8L194.6 487.5M142.5 516.1L38.5 489.9M38.5 489.9L38.5 334.1M194.6 487.5L194.6 331.7M93.1 514.1L184.2 484.8M151.6 513.2L47.6 487M47.6 487L47.6 331.2M184.2 484.8L184.2 329M82.7 511.5L173.8 482.2M160.7 510.3L56.7 484.1M56.7 484.1L56.7 328.3M173.8 482.2L173.8 326.4M72.3 508.9L163.4 479.6M169.8 507.4L65.8 481.1M65.8 481.1L65.8 325.3M163.4 479.6L163.4 323.8M61.9 506.3L153 477M179 504.4L75 478.2M75 478.2L75 322.4M153 477L153 321.2M51.5 503.7L142.6 474.4M188.1 501.5L84.1 475.3M84.1 475.3L84.1 319.5M142.6 474.4L142.6 318.6M41.1 501L132.2 471.7M197.2 498.6L93.2 472.4M93.2 472.4L93.2 316.6M132.2 471.7L132.2 315.9M30.7 498.4L121.8 469.1M206.3 495.6L102.3 469.4M102.3 469.4L102.3 313.6M121.8 469.1L121.8 313.3M20.3 495.8L111.4 466.5M215.4 492.7L111.4 466.5M111.4 466.5L111.4 310.7M111.4 466.5L111.4 310.7M20.3 495.8L111.4 466.5M111.4 466.5L215.4 492.7M20.3 476.3L111.4 447M111.4 447L215.4 473.2M20.3 456.9L111.4 427.6M111.4 427.6L215.4 453.8M20.3 437.4L111.4 408.1M111.4 408.1L215.4 434.3M20.3 417.9L111.4 388.6M111.4 388.6L215.4 414.8M20.3 398.4L111.4 369.1M111.4 369.1L215.4 395.3M20.3 378.9L111.4 349.6M111.4 349.6L215.4 375.8M20.3 359.5L111.4 330.2M111.4 330.2L215.4 356.4M20.3 340L111.4 310.7M111.4 310.7L215.4 336.9" stroke="#dcdcdc" stroke-width="0.5" fill="none"/>
<path d="M20.3 340L20.3 495.8L124.3 522L215.4 492.7M124.3 522l-1.2 1.2M124.3 522l1.2 1.2M113.9 519.4l-1.2 1.2M133.4 519.1l1.2 1.2M103.5 516.8l-1.2 1.2M142.5 516.1l1.2 1.2M93.1 514.1l-1.2 1.2M151.6 513.2l1.2 1.2M82.7 511.5l-1.2 1.2M160.7 510.3l1.2 1.2M72.3 508.9l-1.2 1.2M169.8 507.4l1.2 1.2M61.9 506.3l-1.2 1.2M179 504.4l1.2 1.2M51.5 503.7l-1.2 1.2M188.1 501.5l1.2 1.2M41.1 501l-1.2 1.2M197.2 498.6l1.2 1.2M30.7 498.4l-1.2 1.2M206.3 495.6l1.2 1.2M20.3 495.8l-1.2 1.2M215.4 492.7l1.2 1.2M20.3 495.8l-1.5 0M20.3 476.3l-1.5 0M20.3 456.9l-1.5 0M20.3 437.4l-1.5 0M20.3 417.9l-1.5 0M20.3 398.4l-1.5 0M20.3 378.9l-1.5 0M20.3 359.5l-1.5 0M20.3 340l-1.5 0" stroke="#444" stroke-width="0.6" fill="none"/>
<text transform="translate(120.1 530) scale(0.6 1)" class="t" text-anchor="middle">0</text>
<text transform="translate(128.8 530) scale(0.6 1)" class="t" text-anchor="middle">0</text>
<text transform="translate(109.7 527.4) scale(0.6 1)" class="t" text-anchor="middle">0.1</text>
<text transform="translate(137.9 527.1) scale(0.6 1)" class="t" text-anchor="middle">0.1</text>
<text transform="translate(99.3 524.8) scale(0.6 1)" class="t" text-anchor="middle">0.2</text>
<text transform="translate(147 524.1) scale(0.6 1)" class="t" text-anchor="middle">0.2</text>
<text transform="translate(88.9 522.1) scale(0.6 1)" class="t" text-anchor="middle">0.3</text>
<text transform="translate(156.1 521.2) scale(0.6 1)" class="t" text-anchor="middle">0.3</text>
<text transform="translate(78.5 519.5) scale(0.6 1)" class="t" text-anchor="middle">0.4</text>
<text transform="translate(165.2 518.3) scale(0.6 1)" class="t" text-anchor="middle">0.4</text>
<text transform="translate(68.1 516.9) scale(0.6 1)" class="t" text-anchor="middle">0.5</text>
<text transform="translate(174.3 515.4) scale(0.6 1)" class="t" text-anchor="middle">0.5</text>
<text transform="translate(57.7 514.3) scale(0.6 1)" class="t" text-anchor="middle">0.6</text>
<text transform="translate(183.5 512.4) scale(0.6 1)" class="t" text-anchor="middle">0.6</text>
<text transform="translate(47.3 511.7) scale(0.6 1)" class="t" text-anchor="middle">0.7</text>
<text transform="translate(192.6 509.5) scale(0.6 1)" class="t" text-anchor="middle">0.7</text>
<text transform="translate(36.9 509) scale(0.6 1)" class="t" text-anchor="middle">0.8</text>
<text transform="translate(201.7 506.6) scale(0.6 1)" class="t" text-anchor="middle">0.8</text>
<text transform="translate(26.5 506.4) scale(0.6 1)" class="t" text-anchor="middle">0.9</text>
<text transform="translate(210.8 503.6) scale(0.6 1)" class="t" text-anchor="middle">0.9</text>
<text transform="translate(16.1 503.8) scale(0.6 1)" class="t" text-anchor="middle">1</text>
<text transform="translate(219.9 500.7) scale(0.6 1)" class="t" text-anchor="middle">1</text>
<text transform="translate(17.8 497.5) scale(0.6 1)" class="t" text-anchor="end">-2</text>
<text transform="translate(17.8 478) scale(0.6 1)" class="t" text-anchor="end">0</text>
<text transform="translate(17.8 458.6) scale(0.6 1)" class="t" text-anchor="end">2</text>
<text transform="translate(17.8 439.1) scale(0.6 1)" class="t" text-anchor="end">4</text>
<text transform="translate(17.8 419.6) scale(0.6 1)" class="t" text-anchor="end">6</text>
<text transform="translate(17.8 400.1) scale(0.6 1)" class="t" text-anchor="end">8</text>
<text transform="translate(17.8 380.6) scale(0.6 1)" class="t" text-anchor="end">10</text>
<text transform="translate(17.8 361.2) scale(0.6 1)" class="t" text-anchor="end">12</text>
<text transform="translate(17.8 341.7) scale(0.6 1)" class="t" text-anchor="end">14</text>
<text transform="translate(63.7 537) scale(0.443 1)" class="a" text-anchor="middle">Quantiles of Energy Efficiency</text>
<text transform="translate(183.2 537) scale(0.426 1)" class="a" text-anchor="middle">Quantiles of Economic Growth</text>
<g stroke="#000" stroke-width="0.55" stroke-linejoin="round">
<path d="M112.7 362.2L107.5 361.7L112 365.1L117.2 368.3Z" fill="#ff1000"/>
<path d="M117.9 361.1L112.7 362.2L117.2 368.3L122.4 368.7Z" fill="#fb0000"/>
<path d="M108.1 357.2L102.9 355.4L107.5 361.7L112.7 362.2Z" fill="#dc0000"/>
<path d="M123.1 364.1L117.9 361.1L122.4 368.7L127.6 370Z" fill="#ff0a00"/>
<path d="M113.3 359.1L108.1 357.2L112.7 362.2L117.9 361.1Z" fill="#e00000"/>
<path d="M103.6 357.7L98.4 353.9L102.9 355.4L108.1 357.2Z" fill="#d40000"/>
<path d="M128.3 365.6L123.1 364.1L127.6 370L132.8 372.3Z" fill="#ff0b00"/>
<path d="M118.5 365.3L113.3 359.1L117.9 361.1L123.1 364.1Z" fill="#ff0800"/>
<path d="M108.8 359.7L103.6 357.7L108.1 357.2L113.3 359.1Z" fill="#da0000"/>
<path d="M99 358L93.8 352.4L98.4 353.9L103.6 357.7Z" fill="#cb0000"/>
<path d="M133.5 371.4L128.3 365.6L132.8 372.3L138 374.6Z" fill="#ff3f00"/>
<path d="M123.7 367.9L118.5 365.3L123.1 364.1L128.3 365.6Z" fill="#ff1400"/>
<path d="M114 364.4L108.8 359.7L113.3 359.1L118.5 365.3Z" fill="#f40000"/>
<path d="M104.2 359.4L99 358L103.6 357.7L108.8 359.7Z" fill="#cc0000"/>
<path d="M94.5 360.7L89.3 357.8L93.8 352.4L99 358Z" fill="#d40000"/>
<path d="M138.7 372.6L133.5 371.4L138 374.6L143.2 376.8Z" fill="#ff3d00"/>
<path d="M128.9 375.6L123.7 367.9L128.3 365.6L133.5 371.4Z" fill="#ff5f00"/>
<path d="M99.7 363.1L94.5 360.7L99 358L104.2 359.4Z" fill="#dd0000"/>
<path d="M89.9 359.3L84.7 359.3L89.3 357.8L94.5 360.7Z" fill="#be0000"/>
<path d="M119.2 371.7L114 364.4L118.5 365.3L123.7 367.9Z" fill="#ff2f00"/>
<path d="M109.4 367.1L104.2 359.4L108.8 359.7L114 364.4Z" fill="#fd0000"/>
<path d="M143.9 375.3L138.7 372.6L143.2 376.8L148.4 379.1Z" fill="#ff4d00"/>
<path d="M134.1 381.6L128.9 375.6L133.5 371.4L138.7 372.6Z" fill="#ff9700"/>
<path d="M95.1 365.7L89.9 359.3L94.5 360.7L99.7 363.1Z" fill="#e60000"/>
<path d="M85.4 362.6L80.2 360.7L84.7 359.3L89.9 359.3Z" fill="#cc0000"/>
<path d="M124.4 383.2L119.2 371.7L123.7 367.9L128.9 375.6Z" fill="#ffa700"/>
<path d="M114.6 375.2L109.4 367.1L114 364.4L119.2 371.7Z" fill="#ff4700"/>
<path d="M104.9 371.1L99.7 363.1L104.2 359.4L109.4 367.1Z" fill="#ff1500"/>
<path d="M149.1 380.4L143.9 375.3L148.4 379.1L153.6 382.4Z" fill="#ff7a00"/>
<path d="M139.3 390.2L134.1 381.6L138.7 372.6L143.9 375.3Z" fill="#ffe600"/>
<path d="M129.6 391L124.4 383.2L128.9 375.6L134.1 381.6Z" fill="#ffec00"/>
<path d="M119.8 387.4L114.6 375.2L119.2 371.7L124.4 383.2Z" fill="#ffc700"/>
<path d="M110.1 378.3L104.9 371.1L109.4 367.1L114.6 375.2Z" fill="#ff5a00"/>
<path d="M100.3 374.2L95.1 365.7L99.7 363.1L104.9 371.1Z" fill="#ff2800"/>
<path d="M90.6 367.3L85.4 362.6L89.9 359.3L95.1 365.7Z" fill="#e70000"/>
<path d="M80.8 363.1L75.6 360.2L80.2 360.7L85.4 362.6Z" fill="#c50000"/>
<path d="M154.3 382.7L149.1 380.4L153.6 382.4L158.8 386.6Z" fill="#ff8700"/>
<path d="M144.5 400.4L139.3 390.2L143.9 375.3L149.1 380.4Z" fill="#d1ff2e"/>
<path d="M134.8 403.3L129.6 391L134.1 381.6L139.3 390.2Z" fill="#bcff43"/>
<path d="M125 399.6L119.8 387.4L124.4 383.2L129.6 391Z" fill="#daff25"/>
<path d="M115.3 391.1L110.1 378.3L114.6 375.2L119.8 387.4Z" fill="#ffe000"/>
<path d="M105.5 381.7L100.3 374.2L104.9 371.1L110.1 378.3Z" fill="#ff7100"/>
<path d="M95.8 374.5L90.6 367.3L95.1 365.7L100.3 374.2Z" fill="#ff1b00"/>
<path d="M86 371L80.8 363.1L85.4 362.6L90.6 367.3Z" fill="#f80000"/>
<path d="M76.2 363L71 358.3L75.6 360.2L80.8 363.1Z" fill="#b80000"/>
<path d="M159.5 385.8L154.3 382.7L158.8 386.6L164 390.8Z" fill="#ff5e00"/>
<path d="M149.7 406.4L144.5 400.4L149.1 380.4L154.3 382.7Z" fill="#adff52"/>
<path d="M140 412L134.8 403.3L139.3 390.2L144.5 400.4Z" fill="#82ff7d"/>
<path d="M130.2 408L125 399.6L129.6 391L134.8 403.3Z" fill="#a3ff5c"/>
<path d="M120.5 404.5L115.3 391.1L119.8 387.4L125 399.6Z" fill="#bfff40"/>
<path d="M110.7 394L105.5 381.7L110.1 378.3L115.3 391.1Z" fill="#ffeb00"/>
<path d="M101 382.9L95.8 374.5L100.3 374.2L105.5 381.7Z" fill="#ff6e00"/>
<path d="M91.2 375.9L86 371L90.6 367.3L95.8 374.5Z" fill="#ff1900"/>
<path d="M81.5 369.8L76.2 363L80.8 363.1L86 371Z" fill="#e40000"/>
<path d="M71.7 364.1L66.5 358.3L71 358.3L76.2 363Z" fill="#b60000"/>
<path d="M164.7 388.5L159.5 385.8L164 390.8L169.2 393.1Z" fill="#ff6f00"/>
<path d="M154.9 411.3L149.7 406.4L154.3 382.7L159.5 385.8Z" fill="#cdff32"/>
<path d="M125.7 412.8L120.5 404.5L125 399.6L130.2 408Z" fill="#88ff77"/>
<path d="M115.9 407.5L110.7 394L115.3 391.1L120.5 404.5Z" fill="#b3ff4c"/>
<path d="M106.2 395.3L101 382.9L105.5 381.7L110.7 394Z" fill="#ffea00"/>
<path d="M76.9 371.1L71.7 364.1L76.2 363L81.5 369.8Z" fill="#e30000"/>
<path d="M67.1 365L61.9 357.3L66.5 358.3L71.7 364.1Z" fill="#b10000"/>
<path d="M145.2 418.3L140 412L144.5 400.4L149.7 406.4Z" fill="#5bffa4"/>
<path d="M135.4 417L130.2 408L134.8 403.3L140 412Z" fill="#67ff98"/>
<path d="M96.4 381.2L91.2 375.9L95.8 374.5L101 382.9Z" fill="#ff4900"/>
<path d="M86.7 375.1L81.5 369.8L86 371L91.2 375.9Z" fill="#ff0400"/>
<path d="M169.9 393.3L164.7 388.5L169.2 393.1L174.4 394.8Z" fill="#ff9800"/>
<path d="M121.1 415.4L115.9 407.5L120.5 404.5L125.7 412.8Z" fill="#80ff7f"/>
<path d="M111.4 408.6L106.2 395.3L110.7 394L115.9 407.5Z" fill="#b6ff49"/>
<path d="M62.6 365.9L57.4 362.2L61.9 357.3L67.1 365Z" fill="#ad0000"/>
<path d="M160.1 420.7L154.9 411.3L159.5 385.8L164.7 388.5Z" fill="#8fff70"/>
<path d="M150.4 427L145.2 418.3L149.7 406.4L154.9 411.3Z" fill="#43ffbc"/>
<path d="M140.6 424.7L135.4 417L140 412L145.2 418.3Z" fill="#34ffcb"/>
<path d="M130.9 421.9L125.7 412.8L130.2 408L135.4 417Z" fill="#4bffb4"/>
<path d="M101.6 395.3L96.4 381.2L101 382.9L106.2 395.3Z" fill="#ffde00"/>
<path d="M91.8 380.2L86.7 375.1L91.2 375.9L96.4 381.2Z" fill="#ff2c00"/>
<path d="M82.1 375.3L76.9 371.1L81.5 369.8L86.7 375.1Z" fill="#f90000"/>
<path d="M72.3 370.1L67.1 365L71.7 364.1L76.9 371.1Z" fill="#cf0000"/>
<path d="M175.1 397.2L169.9 393.3L174.4 394.8L179.6 398.7Z" fill="#ffae00"/>
<path d="M165.3 424.2L160.1 420.7L164.7 388.5L169.9 393.3Z" fill="#7dff82"/>
<path d="M155.6 432.3L150.4 427L154.9 411.3L160.1 420.7Z" fill="#24ffdb"/>
<path d="M145.8 429.3L140.6 424.7L145.2 418.3L150.4 427Z" fill="#3dffc2"/>
<path d="M136.1 427.2L130.9 421.9L135.4 417L140.6 424.7Z" fill="#2cffd3"/>
<path d="M126.3 422.9L121.1 415.4L125.7 412.8L130.9 421.9Z" fill="#4fffb0"/>
<path d="M116.6 418.4L111.4 408.6L115.9 407.5L121.1 415.4Z" fill="#74ff8b"/>
<path d="M106.8 407.5L101.6 395.3L106.2 395.3L111.4 408.6Z" fill="#caff35"/>
<path d="M97 392.7L91.8 380.2L96.4 381.2L101.6 395.3Z" fill="#ffaf00"/>
<path d="M87.3 379L82.1 375.3L86.7 375.1L91.8 380.2Z" fill="#ff0d00"/>
<path d="M77.5 374.8L72.3 370.1L76.9 371.1L82.1 375.3Z" fill="#e90000"/>
<path d="M67.8 368.4L62.6 365.9L67.1 365L72.3 370.1Z" fill="#b60000"/>
<path d="M58 367.4L52.8 366.6L57.4 362.2L62.6 365.9Z" fill="#ad0000"/>
<path d="M180.3 401.5L175.1 397.2L179.6 398.7L184.8 401.9Z" fill="#ffc600"/>
<path d="M53.5 370.6L48.3 367.6L52.8 366.6L58 367.4Z" fill="#bb0000"/>
<path d="M170.5 427L165.3 424.2L169.9 393.3L175.1 397.2Z" fill="#71ff8e"/>
<path d="M160.8 432.6L155.6 432.3L160.1 420.7L165.3 424.2Z" fill="#2cffd3"/>
<path d="M141.3 430.9L136.1 427.2L140.6 424.7L145.8 429.3Z" fill="#3cffc3"/>
<path d="M131.5 428.7L126.3 422.9L130.9 421.9L136.1 427.2Z" fill="#2cffd3"/>
<path d="M121.8 427.2L116.6 418.4L121.1 415.4L126.3 422.9Z" fill="#39ffc6"/>
<path d="M112 417.4L106.8 407.5L111.4 408.6L116.6 418.4Z" fill="#87ff78"/>
<path d="M102.2 407.2L97 392.7L101.6 395.3L106.8 407.5Z" fill="#d8ff27"/>
<path d="M92.5 391.1L87.3 379L91.8 380.2L97 392.7Z" fill="#ff8b00"/>
<path d="M73 374.7L67.8 368.4L72.3 370.1L77.5 374.8Z" fill="#dd0000"/>
<path d="M63.2 371.5L58 367.4L62.6 365.9L67.8 368.4Z" fill="#c30000"/>
<path d="M151 436.2L145.8 429.3L150.4 427L155.6 432.3Z" fill="#11ffee"/>
<path d="M82.7 382L77.5 374.8L82.1 375.3L87.3 379Z" fill="#ff1e00"/>
<path d="M185.5 406.3L180.3 401.5L184.8 401.9L190 403.2Z" fill="#ffe100"/>
<path d="M48.9 371.3L43.7 368.6L48.3 367.6L53.5 370.6Z" fill="#b50000"/>
<path d="M175.7 430.1L170.5 427L175.1 397.2L180.3 401.5Z" fill="#63ff9c"/>
<path d="M166 436.1L160.8 432.6L165.3 424.2L170.5 427Z" fill="#1bffe4"/>
<path d="M156.2 436.6L151 436.2L155.6 432.3L160.8 432.6Z" fill="#18ffe7"/>
<path d="M146.5 435.5L141.3 430.9L145.8 429.3L151 436.2Z" fill="#22ffdd"/>
<path d="M136.7 434.8L131.5 428.7L136.1 427.2L141.3 430.9Z" fill="#28ffd7"/>
<path d="M127 431.1L121.8 427.2L126.3 422.9L131.5 428.7Z" fill="#47ffb8"/>
<path d="M117.2 428.2L112 417.4L116.6 418.4L121.8 427.2Z" fill="#3dffc2"/>
<path d="M107.4 419.7L102.2 407.2L106.8 407.5L112 417.4Z" fill="#80ff7f"/>
<path d="M97.7 406.3L92.5 391.1L97 392.7L102.2 407.2Z" fill="#ebff14"/>
<path d="M87.9 393L82.7 382L87.3 379L92.5 391.1Z" fill="#ff9000"/>
<path d="M78.2 380.8L73 374.7L77.5 374.8L82.7 382Z" fill="#ff0400"/>
<path d="M68.4 375.3L63.2 371.5L67.8 368.4L73 374.7Z" fill="#d60000"/>
<path d="M58.7 370.7L53.5 370.6L58 367.4L63.2 371.5Z" fill="#b10000"/>
<path d="M190.7 410.2L185.5 406.3L190 403.2L195.2 404.5Z" fill="#fff600"/>
<path d="M180.9 431.7L175.7 430.1L180.3 401.5L185.5 406.3Z" fill="#84ff7b"/>
<path d="M171.2 437.4L166 436.1L170.5 427L175.7 430.1Z" fill="#1bffe4"/>
<path d="M151.7 438.8L146.5 435.5L151 436.2L156.2 436.6Z" fill="#12ffed"/>
<path d="M141.9 440.4L136.7 434.8L141.3 430.9L146.5 435.5Z" fill="#07fff8"/>
<path d="M132.2 436.8L127 431.1L131.5 428.7L136.7 434.8Z" fill="#25ffda"/>
<path d="M102.9 421L97.7 406.3L102.2 407.2L107.4 419.7Z" fill="#82ff7d"/>
<path d="M93.1 407.6L87.9 393L92.5 391.1L97.7 406.3Z" fill="#ecff13"/>
<path d="M83.4 393.7L78.2 380.8L82.7 382L87.9 393Z" fill="#ff8700"/>
<path d="M63.9 375.9L58.7 370.7L63.2 371.5L68.4 375.3Z" fill="#d00000"/>
<path d="M54.1 373.6L48.9 371.3L53.5 370.6L58.7 370.7Z" fill="#bc0000"/>
<path d="M44.4 373.8L39.2 371L43.7 368.6L48.9 371.3Z" fill="#bd0000"/>
<path d="M161.4 440.1L156.2 436.6L160.8 432.6L166 436.1Z" fill="#07fff8"/>
<path d="M122.4 435L117.2 428.2L121.8 427.2L127 431.1Z" fill="#34ffcb"/>
<path d="M112.6 430L107.4 419.7L112 417.4L117.2 428.2Z" fill="#3affc5"/>
<path d="M73.6 382.6L68.4 375.3L73 374.7L78.2 380.8Z" fill="#ff0700"/>
<path d="M195.9 421.1L190.7 410.2L195.2 404.5L200.4 408.8Z" fill="#00e8ff"/>
<path d="M186.1 434.6L180.9 431.7L185.5 406.3L190.7 410.2Z" fill="#77ff88"/>
<path d="M176.4 441.2L171.2 437.4L175.7 430.1L180.9 431.7Z" fill="#07fff8"/>
<path d="M147.1 440.5L141.9 440.4L146.5 435.5L151.7 438.8Z" fill="#11ffee"/>
<path d="M88.6 408.3L83.4 393.7L87.9 393L93.1 407.6Z" fill="#f2ff0d"/>
<path d="M59.3 379.2L54.1 373.6L58.7 370.7L63.9 375.9Z" fill="#de0000"/>
<path d="M49.6 374.2L44.4 373.8L48.9 371.3L54.1 373.6Z" fill="#b50000"/>
<path d="M39.8 380.2L34.6 379.3L39.2 371L44.4 373.8Z" fill="#ff2900"/>
<path d="M166.6 440.2L161.4 440.1L166 436.1L171.2 437.4Z" fill="#10ffef"/>
<path d="M156.9 442.1L151.7 438.8L156.2 436.6L161.4 440.1Z" fill="#03fffc"/>
<path d="M137.4 442.6L132.2 436.8L136.7 434.8L141.9 440.4Z" fill="#02fffd"/>
<path d="M127.6 440.2L122.4 435L127 431.1L132.2 436.8Z" fill="#15ffea"/>
<path d="M117.9 437.2L112.6 430L117.2 428.2L122.4 435Z" fill="#2effd1"/>
<path d="M108.1 430.7L102.9 421L107.4 419.7L112.6 430Z" fill="#40ffbf"/>
<path d="M98.3 421.7L93.1 407.6L97.7 406.3L102.9 421Z" fill="#88ff77"/>
<path d="M78.8 394.2L73.6 382.6L78.2 380.8L83.4 393.7Z" fill="#ff7d00"/>
<path d="M69.1 380.8L63.9 375.9L68.4 375.3L73.6 382.6Z" fill="#ec0000"/>
<path d="M201.1 431L195.9 421.1L200.4 408.8L205.6 415Z" fill="#00e8ff"/>
<path d="M191.3 443L186.1 434.6L190.7 410.2L195.9 421.1Z" fill="#02fffd"/>
<path d="M181.6 443.5L176.4 441.2L180.9 431.7L186.1 434.6Z" fill="#00feff"/>
<path d="M162.1 443.6L156.9 442.1L161.4 440.1L166.6 440.2Z" fill="#01fffe"/>
<path d="M152.3 445.2L147.1 440.5L151.7 438.8L156.9 442.1Z" fill="#00f5ff"/>
<path d="M142.6 445L137.4 442.6L141.9 440.4L147.1 440.5Z" fill="#00f8ff"/>
<path d="M93.8 422.2L88.6 408.3L93.1 407.6L98.3 421.7Z" fill="#8fff70"/>
<path d="M84 407.6L78.8 394.2L83.4 393.7L88.6 408.3Z" fill="#fffb00"/>
<path d="M74.3 393.6L69.1 380.8L73.6 382.6L78.8 394.2Z" fill="#ff6400"/>
<path d="M54.8 377.4L49.6 374.2L54.1 373.6L59.3 379.2Z" fill="#c50000"/>
<path d="M45 382.4L39.8 380.2L44.4 373.8L49.6 374.2Z" fill="#ff3100"/>
<path d="M35.3 388.9L30.1 388.5L34.6 379.3L39.8 380.2Z" fill="#ff6200"/>
<path d="M171.8 443.3L166.6 440.2L171.2 437.4L176.4 441.2Z" fill="#02fffd"/>
<path d="M132.8 445.2L127.6 440.2L132.2 436.8L137.4 442.6Z" fill="#00f7ff"/>
<path d="M123 444.3L117.9 437.2L122.4 435L127.6 440.2Z" fill="#01fffe"/>
<path d="M113.3 438.9L108.1 430.7L112.6 430L117.9 437.2Z" fill="#2cffd3"/>
<path d="M103.5 434.5L98.3 421.7L102.9 421L108.1 430.7Z" fill="#2effd1"/>
<path d="M64.5 382.9L59.3 379.2L63.9 375.9L69.1 380.8Z" fill="#f10000"/>
<path d="M157.5 447.1L152.3 445.2L156.9 442.1L162.1 443.6Z" fill="#00f0ff"/>
<path d="M79.5 405.6L74.3 393.6L78.8 394.2L84 407.6Z" fill="#ffe000"/>
<path d="M196.5 452L191.3 443L195.9 421.1L201.1 431Z" fill="#00c5ff"/>
<path d="M186.8 450.5L181.6 443.5L186.1 434.6L191.3 443Z" fill="#00d2ff"/>
<path d="M177 445L171.8 443.3L176.4 441.2L181.6 443.5Z" fill="#00feff"/>
<path d="M167.3 445.4L162.1 443.6L166.6 440.2L171.8 443.3Z" fill="#00fdff"/>
<path d="M147.8 448.6L142.6 445L147.1 440.5L152.3 445.2Z" fill="#00e5ff"/>
<path d="M138 448.6L132.8 445.2L137.4 442.6L142.6 445Z" fill="#00e7ff"/>
<path d="M118.5 445L113.3 438.9L117.9 437.2L123 444.3Z" fill="#07fff8"/>
<path d="M99 435.3L93.8 422.2L98.3 421.7L103.5 434.5Z" fill="#33ffcc"/>
<path d="M89.2 421.5L84 407.6L88.6 408.3L93.8 422.2Z" fill="#a0ff5f"/>
<path d="M69.7 391.8L64.5 382.9L69.1 380.8L74.3 393.6Z" fill="#ff3d00"/>
<path d="M60 383.5L54.8 377.4L59.3 379.2L64.5 382.9Z" fill="#ea0000"/>
<path d="M50.2 381.5L45 382.4L49.6 374.2L54.8 377.4Z" fill="#ff1f00"/>
<path d="M40.5 389.2L35.3 388.9L39.8 380.2L45 382.4Z" fill="#ff5a00"/>
<path d="M128.2 447.8L123 444.3L127.6 440.2L132.8 445.2Z" fill="#00eeff"/>
<path d="M108.7 442.1L103.5 434.5L108.1 430.7L113.3 438.9Z" fill="#1effe1"/>
<path d="M162.7 449.6L157.5 447.1L162.1 443.6L167.3 445.4Z" fill="#00e7ff"/>
<path d="M153 450.2L147.8 448.6L152.3 445.2L157.5 447.1Z" fill="#00e3ff"/>
<path d="M84.7 421.7L79.5 405.6L84 407.6L89.2 421.5Z" fill="#aaff55"/>
<path d="M74.9 398.1L69.7 391.8L74.3 393.6L79.5 405.6Z" fill="#ff7800"/>
<path d="M192 460.2L186.8 450.5L191.3 443L196.5 452Z" fill="#0090ff"/>
<path d="M182.2 455.8L177 445L181.6 443.5L186.8 450.5Z" fill="#00b4ff"/>
<path d="M172.5 449.7L167.3 445.4L171.8 443.3L177 445Z" fill="#00e5ff"/>
<path d="M143.2 452.6L138 448.6L142.6 445L147.8 448.6Z" fill="#00d2ff"/>
<path d="M133.4 450.5L128.2 447.8L132.8 445.2L138 448.6Z" fill="#00e3ff"/>
<path d="M123.7 453.3L118.5 445L123 444.3L128.2 447.8Z" fill="#00ceff"/>
<path d="M113.9 451L108.7 442.1L113.3 438.9L118.5 445Z" fill="#00e2ff"/>
<path d="M104.2 445.9L99 435.3L103.5 434.5L108.7 442.1Z" fill="#0cfff3"/>
<path d="M94.4 437.9L89.2 421.5L93.8 422.2L99 435.3Z" fill="#2affd5"/>
<path d="M65.2 390.1L60 383.5L64.5 382.9L69.7 391.8Z" fill="#ff1800"/>
<path d="M55.4 384.8L50.2 381.5L54.8 377.4L60 383.5Z" fill="#ff2f00"/>
<path d="M45.7 388.6L40.5 389.2L45 382.4L50.2 381.5Z" fill="#ff4b00"/>
<path d="M167.9 451.3L162.7 449.6L167.3 445.4L172.5 449.7Z" fill="#00e4ff"/>
<path d="M70.4 393.6L65.2 390.1L69.7 391.8L74.9 398.1Z" fill="#ff3100"/>
<path d="M177.7 461.3L172.5 449.7L177 445L182.2 455.8Z" fill="#0094ff"/>
<path d="M158.2 454.2L153 450.2L157.5 447.1L162.7 449.6Z" fill="#00ceff"/>
<path d="M148.4 454.9L143.2 452.6L147.8 448.6L153 450.2Z" fill="#00caff"/>
<path d="M128.9 454.7L123.7 453.3L128.2 447.8L133.4 450.5Z" fill="#00ceff"/>
<path d="M109.4 454.2L104.2 445.9L108.7 442.1L113.9 451Z" fill="#00d5ff"/>
<path d="M89.9 440.2L84.7 421.7L89.2 421.5L94.4 437.9Z" fill="#46ffb9"/>
<path d="M80.1 415.5L74.9 398.1L79.5 405.6L84.7 421.7Z" fill="#e6ff19"/>
<path d="M60.6 387.5L55.4 384.8L60 383.5L65.2 390.1Z" fill="#ff3a00"/>
<path d="M187.4 467.6L182.2 455.8L186.8 450.5L192 460.2Z" fill="#0062ff"/>
<path d="M138.6 455.6L133.4 450.5L138 448.6L143.2 452.6Z" fill="#00c6ff"/>
<path d="M119.1 455.8L113.9 451L118.5 445L123.7 453.3Z" fill="#00c6ff"/>
<path d="M99.6 446.7L94.4 437.9L99 435.3L104.2 445.9Z" fill="#12ffed"/>
<path d="M50.9 387.9L45.7 388.6L50.2 381.5L55.4 384.8Z" fill="#ff3c00"/>
<path d="M182.9 474.4L177.7 461.3L182.2 455.8L187.4 467.6Z" fill="#0015ff"/>
<path d="M173.1 464.8L167.9 451.3L172.5 449.7L177.7 461.3Z" fill="#0084ff"/>
<path d="M163.4 457.5L158.2 454.2L162.7 449.6L167.9 451.3Z" fill="#00bfff"/>
<path d="M75.6 413.1L70.4 393.6L74.9 398.1L80.1 415.5Z" fill="#fffa00"/>
<path d="M65.8 390.3L60.6 387.5L65.2 390.1L70.4 393.6Z" fill="#ff4500"/>
<path d="M56.1 387.3L50.9 387.9L55.4 384.8L60.6 387.5Z" fill="#ff2c00"/>
<path d="M153.6 458.4L148.4 454.9L153 450.2L158.2 454.2Z" fill="#00b9ff"/>
<path d="M143.8 460.2L138.6 455.6L143.2 452.6L148.4 454.9Z" fill="#00acff"/>
<path d="M134.1 461.2L128.9 454.7L133.4 450.5L138.6 455.6Z" fill="#00a5ff"/>
<path d="M124.3 459.5L119.1 455.8L123.7 453.3L128.9 454.7Z" fill="#00b4ff"/>
<path d="M114.6 458.7L109.4 454.2L113.9 451L119.1 455.8Z" fill="#00bbff"/>
<path d="M104.8 458.7L99.6 446.7L104.2 445.9L109.4 454.2Z" fill="#00bcff"/>
<path d="M95.1 450.6L89.9 440.2L94.4 437.9L99.6 446.7Z" fill="#00feff"/>
<path d="M85.3 435.6L80.1 415.5L84.7 421.7L89.9 440.2Z" fill="#53ffac"/>
<path d="M178.3 477.3L173.1 464.8L177.7 461.3L182.9 474.4Z" fill="#000aff"/>
<path d="M168.6 467.9L163.4 457.5L167.9 451.3L173.1 464.8Z" fill="#0078ff"/>
<path d="M158.8 460.7L153.6 458.4L158.2 454.2L163.4 457.5Z" fill="#00b1ff"/>
<path d="M139.3 464.4L134.1 461.2L138.6 455.6L143.8 460.2Z" fill="#0096ff"/>
<path d="M119.8 463.1L114.6 458.7L119.1 455.8L124.3 459.5Z" fill="#00a3ff"/>
<path d="M100.3 463.4L95.1 450.6L99.6 446.7L104.8 458.7Z" fill="#00a3ff"/>
<path d="M80.8 432.6L75.6 413.1L80.1 415.5L85.3 435.6Z" fill="#76ff89"/>
<path d="M71 402.9L65.8 390.3L70.4 393.6L75.6 413.1Z" fill="#ff9e00"/>
<path d="M61.3 388.6L56.1 387.3L60.6 387.5L65.8 390.3Z" fill="#ff2c00"/>
<path d="M149.1 462.1L143.8 460.2L148.4 454.9L153.6 458.4Z" fill="#00a7ff"/>
<path d="M129.5 463.2L124.3 459.5L128.9 454.7L134.1 461.2Z" fill="#00a1ff"/>
<path d="M110 464.6L104.8 458.7L109.4 454.2L114.6 458.7Z" fill="#0098ff"/>
<path d="M90.5 448.4L85.3 435.6L89.9 440.2L95.1 450.6Z" fill="#1bffe4"/>
<path d="M173.8 479.7L168.6 467.9L173.1 464.8L178.3 477.3Z" fill="#0002ff"/>
<path d="M164 472.1L158.8 460.7L163.4 457.5L168.6 467.9Z" fill="#0062ff"/>
<path d="M154.2 466.3L149.1 462.1L153.6 458.4L158.8 460.7Z" fill="#0091ff"/>
<path d="M144.5 466L139.3 464.4L143.8 460.2L149.1 462.1Z" fill="#0094ff"/>
<path d="M134.7 466.2L129.5 463.2L134.1 461.2L139.3 464.4Z" fill="#0094ff"/>
<path d="M125 468L119.8 463.1L124.3 459.5L129.5 463.2Z" fill="#0087ff"/>
<path d="M115.2 468.8L110 464.6L114.6 458.7L119.8 463.1Z" fill="#0082ff"/>
<path d="M105.5 469.4L100.3 463.4L104.8 458.7L110 464.6Z" fill="#007eff"/>
<path d="M95.7 462L90.5 448.4L95.1 450.6L100.3 463.4Z" fill="#00baff"/>
<path d="M86 447.5L80.8 432.6L85.3 435.6L90.5 448.4Z" fill="#2effd1"/>
<path d="M76.2 414.5L71 402.9L75.6 413.1L80.8 432.6Z" fill="#ffee00"/>
<path d="M66.5 391.9L61.3 388.6L65.8 390.3L71 402.9Z" fill="#ff3c00"/>
<path d="M130.2 470.8L125 468L129.5 463.2L134.7 466.2Z" fill="#007bff"/>
<path d="M110.7 473.1L105.5 469.4L110 464.6L115.2 468.8Z" fill="#006bff"/>
<path d="M169.2 482.2L164 472.1L168.6 467.9L173.8 479.7Z" fill="#0000fa"/>
<path d="M159.4 476L154.2 466.3L158.8 460.7L164 472.1Z" fill="#002dff"/>
<path d="M149.7 469.5L144.5 466L149.1 462.1L154.2 466.3Z" fill="#0083ff"/>
<path d="M139.9 471.2L134.7 466.2L139.3 464.4L144.5 466Z" fill="#0077ff"/>
<path d="M120.4 473L115.2 468.8L119.8 463.1L125 468Z" fill="#006cff"/>
<path d="M100.9 474.6L95.7 462L100.3 463.4L105.5 469.4Z" fill="#0061ff"/>
<path d="M91.2 465.4L86 447.5L90.5 448.4L95.7 462Z" fill="#00aaff"/>
<path d="M81.4 429.7L76.2 414.5L80.8 432.6L86 447.5Z" fill="#a3ff5c"/>
<path d="M71.7 399L66.5 391.9L71 402.9L76.2 414.5Z" fill="#ff6a00"/>
<path d="M154.9 478.4L149.7 469.5L154.2 466.3L159.4 476Z" fill="#0025ff"/>
<path d="M135.4 473.7L130.2 470.8L134.7 466.2L139.9 471.2Z" fill="#006fff"/>
<path d="M125.6 473.1L120.4 473L125 468L130.2 470.8Z" fill="#0075ff"/>
<path d="M115.9 474.2L110.7 473.1L115.2 468.8L120.4 473Z" fill="#006eff"/>
<path d="M106.1 477.6L100.9 474.6L105.5 469.4L110.7 473.1Z" fill="#0054ff"/>
<path d="M86.6 445.1L81.4 429.7L86 447.5L91.2 465.4Z" fill="#34ffcb"/>
<path d="M164.6 486.6L159.4 476L164 472.1L169.2 482.2Z" fill="#0000e3"/>
<path d="M145.1 474.9L139.9 471.2L144.5 466L149.7 469.5Z" fill="#0064ff"/>
<path d="M96.4 481.1L91.2 465.4L95.7 462L100.9 474.6Z" fill="#0017ff"/>
<path d="M76.9 417.9L71.7 399L76.2 414.5L81.4 429.7Z" fill="#fff300"/>
<path d="M160.1 490L154.9 478.4L159.4 476L164.6 486.6Z" fill="#0000d4"/>
<path d="M140.6 478.3L135.4 473.7L139.9 471.2L145.1 474.9Z" fill="#0055ff"/>
<path d="M121.1 478.3L115.9 474.2L120.4 473L125.6 473.1Z" fill="#0057ff"/>
<path d="M101.6 485.2L96.4 481.1L100.9 474.6L106.1 477.6Z" fill="#0001ff"/>
<path d="M82.1 426L76.9 417.9L81.4 429.7L86.6 445.1Z" fill="#d5ff2a"/>
<path d="M150.3 482.5L145.1 474.9L149.7 469.5L154.9 478.4Z" fill="#0011ff"/>
<path d="M130.8 476.9L125.6 473.1L130.2 470.8L135.4 473.7Z" fill="#0061ff"/>
<path d="M111.3 481.6L106.1 477.6L110.7 473.1L115.9 474.2Z" fill="#001dff"/>
<path d="M91.8 486L86.6 445.1L91.2 465.4L96.4 481.1Z" fill="#0000fb"/>
<path d="M145.8 483.4L140.6 478.3L145.1 474.9L150.3 482.5Z" fill="#0015ff"/>
<path d="M126.3 479.9L121.1 478.3L125.6 473.1L130.8 476.9Z" fill="#0055ff"/>
<path d="M116.5 485.2L111.3 481.6L115.9 474.2L121.1 478.3Z" fill="#000aff"/>
<path d="M97 487.3L91.8 486L96.4 481.1L101.6 485.2Z" fill="#0000fb"/>
<path d="M155.5 484.6L150.3 482.5L154.9 478.4L160.1 490Z" fill="#000aff"/>
<path d="M136 478.7L130.8 476.9L135.4 473.7L140.6 478.3Z" fill="#005eff"/>
<path d="M106.8 488.4L101.6 485.2L106.1 477.6L111.3 481.6Z" fill="#0000f2"/>
<path d="M87.3 489.6L82.1 426L86.6 445.1L91.8 486Z" fill="#0000ea"/>
<path d="M151 489.5L145.8 483.4L150.3 482.5L155.5 484.6Z" fill="#0000ee"/>
<path d="M131.5 479.8L126.3 479.9L130.8 476.9L136 478.7Z" fill="#0060ff"/>
<path d="M121.7 484.1L116.5 485.2L121.1 478.3L126.3 479.9Z" fill="#001dff"/>
<path d="M112 490.1L106.8 488.4L111.3 481.6L116.5 485.2Z" fill="#0000ee"/>
<path d="M92.5 490.9L87.3 489.6L91.8 486L97 487.3Z" fill="#0000ea"/>
<path d="M141.2 481.8L136 478.7L140.6 478.3L145.8 483.4Z" fill="#002dff"/>
<path d="M102.2 491.5L97 487.3L101.6 485.2L106.8 488.4Z" fill="#0000e4"/>
<path d="M136.7 483.8L131.5 479.8L136 478.7L141.2 481.8Z" fill="#0029ff"/>
<path d="M126.9 485.6L121.7 484.1L126.3 479.9L131.5 479.8Z" fill="#001cff"/>
<path d="M117.2 491.3L112 490.1L116.5 485.2L121.7 484.1Z" fill="#0000f0"/>
<path d="M107.4 496.9L102.2 491.5L106.8 488.4L112 490.1Z" fill="#0000c5"/>
<path d="M146.4 484.2L141.2 481.8L145.8 483.4L151 489.5Z" fill="#0024ff"/>
<path d="M97.7 492.2L92.5 490.9L97 487.3L102.2 491.5Z" fill="#0000ea"/>
<path d="M141.9 485.6L136.7 483.8L141.2 481.8L146.4 484.2Z" fill="#0025ff"/>
<path d="M102.9 503.3L97.7 492.2L102.2 491.5L107.4 496.9Z" fill="#00009e"/>
<path d="M132.1 489.4L126.9 485.6L131.5 479.8L136.7 483.8Z" fill="#0008ff"/>
<path d="M122.4 490.3L117.2 491.3L121.7 484.1L126.9 485.6Z" fill="#0003ff"/>
<path d="M112.6 498.6L107.4 496.9L112 490.1L117.2 491.3Z" fill="#0000c1"/>
<path d="M137.3 487.1L132.1 489.4L136.7 483.8L141.9 485.6Z" fill="#0025ff"/>
<path d="M108.1 505.6L102.9 503.3L107.4 496.9L112.6 498.6Z" fill="#000096"/>
<path d="M127.6 490.8L122.4 490.3L126.9 485.6L132.1 489.4Z" fill="#0009ff"/>
<path d="M117.8 498.6L112.6 498.6L117.2 491.3L122.4 490.3Z" fill="#0000cc"/>
<path d="M132.8 491L127.6 490.8L132.1 489.4L137.3 487.1Z" fill="#0012ff"/>
<path d="M123 498.6L117.8 498.6L122.4 490.3L127.6 490.8Z" fill="#0000d6"/>
<path d="M113.3 506.9L108.1 505.6L112.6 498.6L117.8 498.6Z" fill="#000096"/>
<path d="M128.2 498.3L123 498.6L127.6 490.8L132.8 491Z" fill="#0000e3"/>
<path d="M118.5 508.2L113.3 506.9L117.8 498.6L123 498.6Z" fill="#000096"/>
<path d="M123.7 509.5L118.5 508.2L123 498.6L128.2 498.3Z" fill="#000096"/>
</g>
<defs><linearGradient id="cb3" x1="0" y1="0" x2="0" y2="1"><stop offset="0%" stop-color="#800000"/><stop offset="6.2%" stop-color="#bf0000"/><stop offset="12.5%" stop-color="#ff0000"/><stop offset="18.8%" stop-color="#ff4000"/><stop offset="25%" stop-color="#ff8000"/><stop offset="31.2%" stop-color="#ffbf00"/><stop offset="37.5%" stop-color="#ffff00"/><stop offset="43.8%" stop-color="#bfff40"/><stop offset="50%" stop-color="#80ff80"/><stop offset="56.2%" stop-color="#40ffbf"/><stop offset="62.5%" stop-color="#00ffff"/><stop offset="68.8%" stop-color="#00bfff"/><stop offset="75%" stop-color="#0080ff"/><stop offset="81.2%" stop-color="#0040ff"/><stop offset="87.5%" stop-color="#0000ff"/><stop offset="93.8%" stop-color="#0000bf"/><stop offset="100%" stop-color="#000080"/></linearGradient></defs>
<rect x="223.4" y="311.7" width="5.9" height="210" fill="url(#cb3)" stroke="#555" stroke-width="0.3"/>
<text transform="translate(230.8 314.6) scale(0.6 1)" class="c" text-anchor="start">12</text>
<text transform="translate(230.8 346) scale(0.6 1)" class="c" text-anchor="start">10</text>
<text transform="translate(230.8 377.3) scale(0.6 1)" class="c" text-anchor="start">8</text>
<text transform="translate(230.8 408.7) scale(0.6 1)" class="c" text-anchor="start">6</text>
<text transform="translate(230.8 440) scale(0.6 1)" class="c" text-anchor="start">4</text>
<text transform="translate(230.8 471.4) scale(0.6 1)" class="c" text-anchor="start">2</text>
<text transform="translate(230.8 502.7) scale(0.6 1)" class="c" text-anchor="start">0</text>
<path d="M361 240L451 195.2M361 240L269.8 195.4M269.8 195.4L269.8 76.2M451 195.2L451 76M351.9 235.5L441.9 190.7M370 235.5L278.8 190.9M278.8 190.9L278.8 71.7M441.9 190.7L441.9 71.5M342.8 231.1L432.8 186.3M379 231L287.8 186.4M287.8 186.4L287.8 67.2M432.8 186.3L432.8 67.1M333.6 226.6L423.6 181.8M388 226.6L296.8 182M296.8 182L296.8 62.8M423.6 181.8L423.6 62.6M324.5 222.2L414.5 177.4M397 222.1L305.8 177.5M305.8 177.5L305.8 58.3M414.5 177.4L414.5 58.2M315.4 217.7L405.4 172.9M406 217.6L314.8 173M314.8 173L314.8 53.8M405.4 172.9L405.4 53.7M306.3 213.2L396.3 168.4M415 213.1L323.8 168.5M323.8 168.5L323.8 49.3M396.3 168.4L396.3 49.2M297.2 208.8L387.2 164M424 208.6L332.8 164M332.8 164L332.8 44.8M387.2 164L387.2 44.8M288 204.3L378 159.5M433 204.2L341.8 159.6M341.8 159.6L341.8 40.4M378 159.5L378 40.3M278.9 199.9L368.9 155.1M442 199.7L350.8 155.1M350.8 155.1L350.8 35.9M368.9 155.1L368.9 35.9M269.8 195.4L359.8 150.6M451 195.2L359.8 150.6M359.8 150.6L359.8 31.4M359.8 150.6L359.8 31.4M269.8 195.4L359.8 150.6M359.8 150.6L451 195.2M269.8 178.4L359.8 133.6M359.8 133.6L451 178.2M269.8 161.3L359.8 116.5M359.8 116.5L451 161.1M269.8 144.3L359.8 99.5M359.8 99.5L451 144.1M269.8 127.3L359.8 82.5M359.8 82.5L451 127.1M269.8 110.3L359.8 65.5M359.8 65.5L451 110.1M269.8 93.2L359.8 48.4M359.8 48.4L451 93M269.8 76.2L359.8 31.4M359.8 31.4L451 76" stroke="#dcdcdc" stroke-width="0.5" fill="none"/>
<path d="M269.8 76.2L269.8 195.4L361 240L451 195.2M361 240l-1.2 1.2M361 240l1.2 1.2M351.9 235.5l-1.2 1.2M370 235.5l1.2 1.2M342.8 231.1l-1.2 1.2M379 231l1.2 1.2M333.6 226.6l-1.2 1.2M388 226.6l1.2 1.2M324.5 222.2l-1.2 1.2M397 222.1l1.2 1.2M315.4 217.7l-1.2 1.2M406 217.6l1.2 1.2M306.3 213.2l-1.2 1.2M415 213.1l1.2 1.2M297.2 208.8l-1.2 1.2M424 208.6l1.2 1.2M288 204.3l-1.2 1.2M433 204.2l1.2 1.2M278.9 199.9l-1.2 1.2M442 199.7l1.2 1.2M269.8 195.4l-1.2 1.2M451 195.2l1.2 1.2M269.8 195.4l-1.5 0M269.8 178.4l-1.5 0M269.8 161.3l-1.5 0M269.8 144.3l-1.5 0M269.8 127.3l-1.5 0M269.8 110.3l-1.5 0M269.8 93.2l-1.5 0M269.8 76.2l-1.5 0" stroke="#444" stroke-width="0.6" fill="none"/>
<text transform="translate(356.8 248) scale(0.6 1)" class="t" text-anchor="middle">0</text>
<text transform="translate(365.5 248) scale(0.6 1)" class="t" text-anchor="middle">0</text>
<text transform="translate(347.7 243.5) scale(0.6 1)" class="t" text-anchor="middle">0.1</text>
<text transform="translate(374.5 243.5) scale(0.6 1)" class="t" text-anchor="middle">0.1</text>
<text transform="translate(338.6 239.1) scale(0.6 1)" class="t" text-anchor="middle">0.2</text>
<text transform="translate(383.5 239) scale(0.6 1)" class="t" text-anchor="middle">0.2</text>
<text transform="translate(329.4 234.6) scale(0.6 1)" class="t" text-anchor="middle">0.3</text>
<text transform="translate(392.5 234.6) scale(0.6 1)" class="t" text-anchor="middle">0.3</text>
<text transform="translate(320.3 230.2) scale(0.6 1)" class="t" text-anchor="middle">0.4</text>
<text transform="translate(401.5 230.1) scale(0.6 1)" class="t" text-anchor="middle">0.4</text>
<text transform="translate(311.2 225.7) scale(0.6 1)" class="t" text-anchor="middle">0.5</text>
<text transform="translate(410.5 225.6) scale(0.6 1)" class="t" text-anchor="middle">0.5</text>
<text transform="translate(302.1 221.2) scale(0.6 1)" class="t" text-anchor="middle">0.6</text>
<text transform="translate(419.5 221.1) scale(0.6 1)" class="t" text-anchor="middle">0.6</text>
<text transform="translate(293 216.8) scale(0.6 1)" class="t" text-anchor="middle">0.7</text>
<text transform="translate(428.5 216.6) scale(0.6 1)" class="t" text-anchor="middle">0.7</text>
<text transform="translate(283.8 212.3) scale(0.6 1)" class="t" text-anchor="middle">0.8</text>
<text transform="translate(437.5 212.2) scale(0.6 1)" class="t" text-anchor="middle">0.8</text>
<text transform="translate(274.7 207.9) scale(0.6 1)" class="t" text-anchor="middle">0.9</text>
<text transform="translate(446.5 207.7) scale(0.6 1)" class="t" text-anchor="middle">0.9</text>
<text transform="translate(265.6 203.4) scale(0.6 1)" class="t" text-anchor="middle">1</text>
<text transform="translate(455.5 203.2) scale(0.6 1)" class="t" text-anchor="middle">1</text>
<text transform="translate(267.3 197.1) scale(0.6 1)" class="t" text-anchor="end">-2</text>
<text transform="translate(267.3 180.1) scale(0.6 1)" class="t" text-anchor="end">-1.5</text>
<text transform="translate(267.3 163) scale(0.6 1)" class="t" text-anchor="end">-1</text>
<text transform="translate(267.3 146) scale(0.6 1)" class="t" text-anchor="end">-0.5</text>
<text transform="translate(267.3 129) scale(0.6 1)" class="t" text-anchor="end">0</text>
<text transform="translate(267.3 112) scale(0.6 1)" class="t" text-anchor="end">0.5</text>
<text transform="translate(267.3 94.9) scale(0.6 1)" class="t" text-anchor="end">1</text>
<text transform="translate(267.3 77.9) scale(0.6 1)" class="t" text-anchor="end">1.5</text>
<text transform="translate(314.1 255.2) scale(0.395 1)" class="a" text-anchor="middle">Quantiles of Economic Growth</text>
<text transform="translate(412.3 255.2) scale(0.398 1)" class="a" text-anchor="middle">Quantiles of Energy Efficiency</text>
<g stroke="#000" stroke-width="0.55" stroke-linejoin="round">
<path d="M359.9 90.6L355.4 88.9L359.9 87.2L364.4 88.9Z" fill="#8dff72"/>
<path d="M364.5 93.1L359.9 90.6L364.4 88.9L369 91Z" fill="#8aff75"/>
<path d="M355.4 93.5L350.9 92.9L355.4 88.9L359.9 90.6Z" fill="#86ff79"/>
<path d="M369 96.1L364.5 93.1L369 91L373.5 93.5Z" fill="#83ff7c"/>
<path d="M360 97.3L355.4 93.5L359.9 90.6L364.5 93.1Z" fill="#76ff89"/>
<path d="M350.9 95.8L346.4 93.2L350.9 92.9L355.4 93.5Z" fill="#86ff79"/>
<path d="M373.6 97.8L369 96.1L373.5 93.5L378.1 95.5Z" fill="#88ff77"/>
<path d="M364.5 98.1L360 97.3L364.5 93.1L369 96.1Z" fill="#85ff7a"/>
<path d="M355.5 97.4L350.9 95.8L355.4 93.5L360 97.3Z" fill="#8cff73"/>
<path d="M346.4 98.3L341.9 95.7L346.4 93.2L350.9 95.8Z" fill="#83ff7c"/>
<path d="M378.2 99.2L373.6 97.8L378.1 95.5L382.7 96.7Z" fill="#b3ff4c"/>
<path d="M369.1 102L364.5 98.1L369 96.1L373.6 97.8Z" fill="#73ff8c"/>
<path d="M360 100.3L355.5 97.4L360 97.3L364.5 98.1Z" fill="#86ff79"/>
<path d="M351 99.7L346.4 98.3L350.9 95.8L355.5 97.4Z" fill="#8cff73"/>
<path d="M341.9 100.4L337.4 98L341.9 95.7L346.4 98.3Z" fill="#84ff7b"/>
<path d="M382.7 88.5L378.2 99.2L382.7 96.7L387.2 87.1Z" fill="#ffc700"/>
<path d="M373.7 102L369.1 102L373.6 97.8L378.2 99.2Z" fill="#adff52"/>
<path d="M346.5 103.3L341.9 100.4L346.4 98.3L351 99.7Z" fill="#7eff81"/>
<path d="M337.4 102.4L332.9 99.7L337.4 98L341.9 100.4Z" fill="#87ff78"/>
<path d="M364.6 102.8L360 100.3L364.5 98.1L369.1 102Z" fill="#83ff7c"/>
<path d="M355.5 101.7L351 99.7L355.5 97.4L360 100.3Z" fill="#8eff71"/>
<path d="M387.3 77.4L382.7 88.5L387.2 87.1L391.8 75.5Z" fill="#ff4000"/>
<path d="M378.2 90.2L373.7 102L378.2 99.2L382.7 88.5Z" fill="#ffc200"/>
<path d="M342 103.9L337.4 102.4L341.9 100.4L346.5 103.3Z" fill="#8eff71"/>
<path d="M332.9 104.3L328.4 101.5L332.9 99.7L337.4 102.4Z" fill="#8aff75"/>
<path d="M369.2 104.6L364.6 102.8L369.1 102L373.7 102Z" fill="#aaff55"/>
<path d="M360.1 105.4L355.5 101.7L360 100.3L364.6 102.8Z" fill="#7fff80"/>
<path d="M351 104.9L346.5 103.3L351 99.7L355.5 101.7Z" fill="#84ff7b"/>
<path d="M391.8 71.9L387.3 77.4L391.8 75.5L396.3 77.7Z" fill="#f00000"/>
<path d="M382.8 79.3L378.2 90.2L382.7 88.5L387.3 77.4Z" fill="#ff3d00"/>
<path d="M373.7 94.4L369.2 104.6L373.7 102L378.2 90.2Z" fill="#ffd600"/>
<path d="M364.7 107.8L360.1 105.4L364.6 102.8L369.2 104.6Z" fill="#a0ff5f"/>
<path d="M355.6 107.9L351 104.9L355.5 101.7L360.1 105.4Z" fill="#7cff83"/>
<path d="M346.5 106.3L342 103.9L346.5 103.3L351 104.9Z" fill="#8cff73"/>
<path d="M337.5 105.6L332.9 104.3L337.4 102.4L342 103.9Z" fill="#94ff6b"/>
<path d="M328.4 106.8L323.9 104.8L328.4 101.5L332.9 104.3Z" fill="#88ff77"/>
<path d="M396.4 118.3L391.8 71.9L396.3 77.7L400.9 115.4Z" fill="#4bffb4"/>
<path d="M387.3 77.8L382.8 79.3L387.3 77.4L391.8 71.9Z" fill="#ff1600"/>
<path d="M378.3 81.2L373.7 94.4L378.2 90.2L382.8 79.3Z" fill="#ff3800"/>
<path d="M369.2 95.1L364.7 107.8L369.2 104.6L373.7 94.4Z" fill="#ffc600"/>
<path d="M360.2 110.9L355.6 107.9L360.1 105.4L364.7 107.8Z" fill="#97ff68"/>
<path d="M351.1 108.1L346.5 106.3L351 104.9L355.6 107.9Z" fill="#91ff6e"/>
<path d="M342 109.1L337.5 105.6L342 103.9L346.5 106.3Z" fill="#86ff79"/>
<path d="M333 108.4L328.4 106.8L332.9 104.3L337.5 105.6Z" fill="#8eff71"/>
<path d="M323.9 108.2L319.4 105.8L323.9 104.8L328.4 106.8Z" fill="#90ff6f"/>
<path d="M401 101.9L396.4 118.3L400.9 115.4L405.5 98.7Z" fill="#fff500"/>
<path d="M391.9 121.3L387.3 77.8L391.8 71.9L396.4 118.3Z" fill="#43ffbc"/>
<path d="M382.8 82.8L378.3 81.2L382.8 79.3L387.3 77.8Z" fill="#ff3200"/>
<path d="M373.8 83.9L369.2 95.1L373.7 94.4L378.3 81.2Z" fill="#ff3e00"/>
<path d="M364.7 97.4L360.2 110.9L364.7 107.8L369.2 95.1Z" fill="#ffc600"/>
<path d="M355.7 113.3L351.1 108.1L355.6 107.9L360.2 110.9Z" fill="#96ff69"/>
<path d="M346.6 112.1L342 109.1L346.5 106.3L351.1 108.1Z" fill="#7fff80"/>
<path d="M337.5 112.4L333 108.4L337.5 105.6L342 109.1Z" fill="#7cff83"/>
<path d="M328.5 111.4L323.9 108.2L328.4 106.8L333 108.4Z" fill="#86ff79"/>
<path d="M319.4 112.6L314.9 109.3L319.4 105.8L323.9 108.2Z" fill="#7aff85"/>
<path d="M405.5 101.9L401 101.9L405.5 98.7L410 101.6Z" fill="#ffdf00"/>
<path d="M396.5 103.7L391.9 121.3L396.4 118.3L401 101.9Z" fill="#fff100"/>
<path d="M369.3 84.8L364.7 97.4L369.2 95.1L373.8 83.9Z" fill="#ff3000"/>
<path d="M360.2 99.2L355.7 113.3L360.2 110.9L364.7 97.4Z" fill="#ffc300"/>
<path d="M351.2 114.5L346.6 112.1L351.1 108.1L355.7 113.3Z" fill="#a0ff5f"/>
<path d="M324 115.4L319.4 112.6L323.9 108.2L328.5 111.4Z" fill="#74ff8b"/>
<path d="M314.9 113.4L310.4 111.2L314.9 109.3L319.4 112.6Z" fill="#89ff76"/>
<path d="M387.4 122.5L382.8 82.8L387.3 77.8L391.9 121.3Z" fill="#4effb1"/>
<path d="M378.3 83.5L373.8 83.9L378.3 81.2L382.8 82.8Z" fill="#ff2300"/>
<path d="M342.1 113.7L337.5 112.4L342 109.1L346.6 112.1Z" fill="#86ff79"/>
<path d="M333 115.7L328.5 111.4L333 108.4L337.5 112.4Z" fill="#72ff8d"/>
<path d="M410.1 87.7L405.5 101.9L410 101.6L414.6 84.5Z" fill="#ff3700"/>
<path d="M364.8 87.4L360.2 99.2L364.7 97.4L369.3 84.8Z" fill="#ff3300"/>
<path d="M355.7 101.8L351.2 114.5L355.7 113.3L360.2 99.2Z" fill="#ffc600"/>
<path d="M310.4 115.8L305.9 114.4L310.4 111.2L314.9 113.4Z" fill="#87ff78"/>
<path d="M401 105.5L396.5 103.7L401 101.9L405.5 101.9Z" fill="#ffec00"/>
<path d="M392 105.9L387.4 122.5L391.9 121.3L396.5 103.7Z" fill="#fff000"/>
<path d="M382.9 123.6L378.3 83.5L382.8 82.8L387.4 122.5Z" fill="#5affa5"/>
<path d="M373.8 84.4L369.3 84.8L373.8 83.9L378.3 83.5Z" fill="#ff1500"/>
<path d="M346.7 117.7L342.1 113.7L346.6 112.1L351.2 114.5Z" fill="#97ff68"/>
<path d="M337.6 117.3L333 115.7L337.5 112.4L342.1 113.7Z" fill="#77ff88"/>
<path d="M328.5 116.8L324 115.4L328.5 111.4L333 115.7Z" fill="#7dff82"/>
<path d="M319.5 116.8L314.9 113.4L319.4 112.6L324 115.4Z" fill="#7cff83"/>
<path d="M414.6 107.2L410.1 87.7L414.6 84.5L419.1 113.7Z" fill="#ffe700"/>
<path d="M405.6 90.6L401 105.5L405.5 101.9L410.1 87.7Z" fill="#ff3e00"/>
<path d="M396.5 105.7L392 105.9L396.5 103.7L401 105.5Z" fill="#ffd700"/>
<path d="M387.5 108.6L382.9 123.6L387.4 122.5L392 105.9Z" fill="#fff500"/>
<path d="M378.4 126.4L373.8 84.4L378.3 83.5L382.9 123.6Z" fill="#54ffab"/>
<path d="M369.3 86.2L364.8 87.4L369.3 84.8L373.8 84.4Z" fill="#ff1000"/>
<path d="M360.3 88.9L355.7 101.8L360.2 99.2L364.8 87.4Z" fill="#ff2c00"/>
<path d="M351.2 105.5L346.7 117.7L351.2 114.5L355.7 101.8Z" fill="#ffd500"/>
<path d="M342.2 119.1L337.6 117.3L342.1 113.7L346.7 117.7Z" fill="#9fff60"/>
<path d="M333.1 118.4L328.5 116.8L333 115.7L337.6 117.3Z" fill="#83ff7c"/>
<path d="M324 119.6L319.5 116.8L324 115.4L328.5 116.8Z" fill="#77ff88"/>
<path d="M315 118.7L310.4 115.8L314.9 113.4L319.5 116.8Z" fill="#81ff7e"/>
<path d="M305.9 118.2L301.4 115.5L305.9 114.4L310.4 115.8Z" fill="#86ff79"/>
<path d="M419.2 113.9L414.6 107.2L419.1 113.7L423.7 111.4Z" fill="#e9ff16"/>
<path d="M301.4 120.6L296.9 117.3L301.4 115.5L305.9 118.2Z" fill="#84ff7b"/>
<path d="M410.1 110.1L405.6 90.6L410.1 87.7L414.6 107.2Z" fill="#ffee00"/>
<path d="M401.1 93.4L396.5 105.7L401 105.5L405.6 90.6Z" fill="#ff4300"/>
<path d="M383 109.8L378.4 126.4L382.9 123.6L387.5 108.6Z" fill="#ffeb00"/>
<path d="M373.9 129.5L369.3 86.2L373.8 84.4L378.4 126.4Z" fill="#4cffb3"/>
<path d="M364.8 90.4L360.3 88.9L364.8 87.4L369.3 86.2Z" fill="#ff2500"/>
<path d="M355.8 91.5L351.2 105.5L355.7 101.8L360.3 88.9Z" fill="#ff2f00"/>
<path d="M346.7 106.3L342.2 119.1L346.7 117.7L351.2 105.5Z" fill="#ffc600"/>
<path d="M337.7 122L333.1 118.4L337.6 117.3L342.2 119.1Z" fill="#98ff67"/>
<path d="M319.5 121.8L315 118.7L319.5 116.8L324 119.6Z" fill="#77ff88"/>
<path d="M310.5 121.8L305.9 118.2L310.4 115.8L315 118.7Z" fill="#78ff87"/>
<path d="M392 109.4L387.5 108.6L392 105.9L396.5 105.7Z" fill="#ffe700"/>
<path d="M328.6 121.8L324 119.6L328.5 116.8L333.1 118.4Z" fill="#77ff88"/>
<path d="M423.8 97.1L419.2 113.9L423.7 111.4L428.3 88Z" fill="#ff5300"/>
<path d="M296.9 121.4L292.4 120.6L296.9 117.3L301.4 120.6Z" fill="#93ff6c"/>
<path d="M414.7 115.5L410.1 110.1L414.6 107.2L419.2 113.9Z" fill="#f0ff0f"/>
<path d="M405.6 112.1L401.1 93.4L405.6 90.6L410.1 110.1Z" fill="#ffec00"/>
<path d="M396.6 100.9L392 109.4L396.5 105.7L401.1 93.4Z" fill="#ff7900"/>
<path d="M387.5 110.8L383 109.8L387.5 108.6L392 109.4Z" fill="#ffde00"/>
<path d="M378.5 111.5L373.9 129.5L378.4 126.4L383 109.8Z" fill="#ffe500"/>
<path d="M369.4 130.8L364.8 90.4L369.3 86.2L373.9 129.5Z" fill="#54ffab"/>
<path d="M360.3 95.8L355.8 91.5L360.3 88.9L364.8 90.4Z" fill="#ff4500"/>
<path d="M351.3 95.9L346.7 106.3L351.2 105.5L355.8 91.5Z" fill="#ff4600"/>
<path d="M342.2 107.6L337.7 122L342.2 119.1L346.7 106.3Z" fill="#ffbc00"/>
<path d="M333.2 126.4L328.6 121.8L333.1 118.4L337.7 122Z" fill="#82ff7d"/>
<path d="M324.1 123.6L319.5 121.8L324 119.6L328.6 121.8Z" fill="#7cff83"/>
<path d="M315 122.4L310.5 121.8L315 118.7L319.5 121.8Z" fill="#88ff77"/>
<path d="M306 123L301.4 120.6L305.9 118.2L310.5 121.8Z" fill="#82ff7d"/>
<path d="M428.3 169.5L423.8 97.1L428.3 88L432.8 165.3Z" fill="#0000de"/>
<path d="M419.3 108.5L414.7 115.5L419.2 113.9L423.8 97.1Z" fill="#ffb000"/>
<path d="M410.2 117.4L405.6 112.1L410.1 110.1L414.7 115.5Z" fill="#f4ff0b"/>
<path d="M392.1 106.4L387.5 110.8L392 109.4L396.6 100.9Z" fill="#ff9b00"/>
<path d="M383 112.2L378.5 111.5L383 109.8L387.5 110.8Z" fill="#ffd500"/>
<path d="M374 115.1L369.4 130.8L373.9 129.5L378.5 111.5Z" fill="#fff300"/>
<path d="M346.8 96.8L342.2 107.6L346.7 106.3L351.3 95.9Z" fill="#ff3800"/>
<path d="M337.7 110.2L333.2 126.4L337.7 122L342.2 107.6Z" fill="#ffc000"/>
<path d="M328.7 129L324.1 123.6L328.6 121.8L333.2 126.4Z" fill="#7fff80"/>
<path d="M310.5 125L306 123L310.5 121.8L315 122.4Z" fill="#85ff7a"/>
<path d="M301.5 125.1L296.9 121.4L301.4 120.6L306 123Z" fill="#83ff7c"/>
<path d="M292.4 124.7L287.9 122.8L292.4 120.6L296.9 121.4Z" fill="#88ff77"/>
<path d="M401.1 114.9L396.6 100.9L401.1 93.4L405.6 112.1Z" fill="#fff100"/>
<path d="M364.9 134.1L360.3 95.8L364.8 90.4L369.4 130.8Z" fill="#4affb5"/>
<path d="M355.8 100.8L351.3 95.9L355.8 91.5L360.3 95.8Z" fill="#ff6100"/>
<path d="M319.6 126.6L315 122.4L319.5 121.8L324.1 123.6Z" fill="#74ff8b"/>
<path d="M432.9 175.1L428.3 169.5L432.8 165.3L437.4 174.1Z" fill="#0000bd"/>
<path d="M423.8 171.3L419.3 108.5L423.8 97.1L428.3 169.5Z" fill="#0000e3"/>
<path d="M414.8 120.6L410.2 117.4L414.7 115.5L419.3 108.5Z" fill="#eaff15"/>
<path d="M387.6 112.4L383 112.2L387.5 110.8L392.1 106.4Z" fill="#ffc000"/>
<path d="M333.2 112.6L328.7 129L333.2 126.4L337.7 110.2Z" fill="#ffc200"/>
<path d="M306 127.7L301.5 125.1L306 123L310.5 125Z" fill="#80ff7f"/>
<path d="M297 128L292.4 124.7L296.9 121.4L301.5 125.1Z" fill="#7dff82"/>
<path d="M287.9 126.7L283.4 122.7L287.9 122.8L292.4 124.7Z" fill="#8aff75"/>
<path d="M405.7 120.5L401.1 114.9L405.6 112.1L410.2 117.4Z" fill="#ebff14"/>
<path d="M396.6 116.7L392.1 106.4L396.6 100.9L401.1 114.9Z" fill="#ffed00"/>
<path d="M378.5 114.1L374 115.1L378.5 111.5L383 112.2Z" fill="#ffd200"/>
<path d="M369.5 116.3L364.9 134.1L369.4 130.8L374 115.1Z" fill="#ffe800"/>
<path d="M360.4 135.4L355.8 100.8L360.3 95.8L364.9 134.1Z" fill="#53ffac"/>
<path d="M351.3 105.1L346.8 96.8L351.3 95.9L355.8 100.8Z" fill="#ff7500"/>
<path d="M342.3 97.6L337.7 110.2L342.2 107.6L346.8 96.8Z" fill="#ff2900"/>
<path d="M324.2 130.2L319.6 126.6L324.1 123.6L328.7 129Z" fill="#88ff77"/>
<path d="M315.1 129L310.5 125L315 122.4L319.6 126.6Z" fill="#73ff8c"/>
<path d="M437.4 125.3L432.9 175.1L437.4 174.1L441.9 120.9Z" fill="#d0ff2f"/>
<path d="M428.4 178.4L423.8 171.3L428.3 169.5L432.9 175.1Z" fill="#0000b2"/>
<path d="M419.3 174.4L414.8 120.6L419.3 108.5L423.8 171.3Z" fill="#0000db"/>
<path d="M401.2 123.3L396.6 116.7L401.1 114.9L405.7 120.5Z" fill="#e6ff19"/>
<path d="M392.1 119.4L387.6 112.4L392.1 106.4L396.6 116.7Z" fill="#fff100"/>
<path d="M383.1 115L378.5 114.1L383 112.2L387.6 112.4Z" fill="#ffc500"/>
<path d="M337.8 101.7L333.2 112.6L337.7 110.2L342.3 97.6Z" fill="#ff3c00"/>
<path d="M328.7 115.2L324.2 130.2L328.7 129L333.2 112.6Z" fill="#ffc600"/>
<path d="M319.7 132.3L315.1 129L319.6 126.6L324.2 130.2Z" fill="#8aff75"/>
<path d="M301.5 131.4L297 128L301.5 125.1L306 127.7Z" fill="#71ff8e"/>
<path d="M292.5 129.9L287.9 126.7L292.4 124.7L297 128Z" fill="#80ff7f"/>
<path d="M283.4 129.1L278.9 126.3L283.4 122.7L287.9 126.7Z" fill="#89ff76"/>
<path d="M410.3 123.6L405.7 120.5L410.2 117.4L414.8 120.6Z" fill="#e1ff1e"/>
<path d="M374 116.3L369.5 116.3L374 115.1L378.5 114.1Z" fill="#ffd200"/>
<path d="M365 120L360.4 135.4L364.9 134.1L369.5 116.3Z" fill="#fff700"/>
<path d="M355.9 137.6L351.3 105.1L355.8 100.8L360.4 135.4Z" fill="#54ffab"/>
<path d="M346.8 110.7L342.3 97.6L346.8 96.8L351.3 105.1Z" fill="#ff9800"/>
<path d="M310.6 129.5L306 127.7L310.5 125L315.1 129Z" fill="#84ff7b"/>
<path d="M396.7 125.4L392.1 119.4L396.6 116.7L401.2 123.3Z" fill="#e7ff18"/>
<path d="M324.2 117.3L319.7 132.3L324.2 130.2L328.7 115.2Z" fill="#ffc400"/>
<path d="M432.9 126.5L428.4 178.4L432.9 175.1L437.4 125.3Z" fill="#dbff24"/>
<path d="M423.9 180.7L419.3 174.4L423.8 171.3L428.4 178.4Z" fill="#0000b1"/>
<path d="M414.8 149L410.3 123.6L414.8 120.6L419.3 174.4Z" fill="#00f5ff"/>
<path d="M405.8 125.8L401.2 123.3L405.7 120.5L410.3 123.6Z" fill="#e2ff1d"/>
<path d="M387.6 121.8L383.1 115L387.6 112.4L392.1 119.4Z" fill="#fff200"/>
<path d="M378.6 117.3L374 116.3L378.5 114.1L383.1 115Z" fill="#ffc400"/>
<path d="M360.5 121.7L355.9 137.6L360.4 135.4L365 120Z" fill="#fff100"/>
<path d="M342.3 114L337.8 101.7L342.3 97.6L346.8 110.7Z" fill="#ffa300"/>
<path d="M333.3 102.3L328.7 115.2L333.2 112.6L337.8 101.7Z" fill="#ff2b00"/>
<path d="M315.2 135.6L310.6 129.5L315.1 129L319.7 132.3Z" fill="#80ff7f"/>
<path d="M306.1 133.2L301.5 131.4L306 127.7L310.6 129.5Z" fill="#75ff8a"/>
<path d="M297 133.7L292.5 129.9L297 128L301.5 131.4Z" fill="#70ff8f"/>
<path d="M288 132.2L283.4 129.1L287.9 126.7L292.5 129.9Z" fill="#7fff80"/>
<path d="M369.5 118.7L365 120L369.5 116.3L374 116.3Z" fill="#ffd300"/>
<path d="M351.4 139.9L346.8 110.7L351.3 105.1L355.9 137.6Z" fill="#53ffac"/>
<path d="M401.3 128.1L396.7 125.4L401.2 123.3L405.8 125.8Z" fill="#e2ff1d"/>
<path d="M392.2 125.5L387.6 121.8L392.1 119.4L396.7 125.4Z" fill="#fcff03"/>
<path d="M328.8 103.3L324.2 117.3L328.7 115.2L333.3 102.3Z" fill="#ff1f00"/>
<path d="M319.7 119.9L315.2 135.6L319.7 132.3L324.2 117.3Z" fill="#ffc800"/>
<path d="M428.4 129.2L423.9 180.7L428.4 178.4L432.9 126.5Z" fill="#d7ff28"/>
<path d="M419.4 183.3L414.8 149L419.3 174.4L423.9 180.7Z" fill="#0000ad"/>
<path d="M410.3 149.8L405.8 125.8L410.3 123.6L414.8 149Z" fill="#05fffa"/>
<path d="M383.1 124.6L378.6 117.3L383.1 115L387.6 121.8Z" fill="#fff800"/>
<path d="M374.1 112.7L369.5 118.7L374 116.3L378.6 117.3Z" fill="#ff7f00"/>
<path d="M365 121.3L360.5 121.7L365 120L369.5 118.7Z" fill="#ffd600"/>
<path d="M356 123.5L351.4 139.9L355.9 137.6L360.5 121.7Z" fill="#ffed00"/>
<path d="M346.9 123.7L342.3 114L346.8 110.7L351.4 139.9Z" fill="#ffef00"/>
<path d="M337.8 115.7L333.3 102.3L337.8 101.7L342.3 114Z" fill="#ff9e00"/>
<path d="M310.7 138.2L306.1 133.2L310.6 129.5L315.2 135.6Z" fill="#7cff83"/>
<path d="M301.6 134.6L297 133.7L301.5 131.4L306.1 133.2Z" fill="#7eff81"/>
<path d="M292.5 134.9L288 132.2L292.5 129.9L297 133.7Z" fill="#7bff84"/>
<path d="M405.8 151.6L401.3 128.1L405.8 125.8L410.3 149.8Z" fill="#09fff6"/>
<path d="M315.2 129.7L310.7 138.2L315.2 135.6L319.7 119.9Z" fill="#e9ff16"/>
<path d="M414.9 187.6L410.3 149.8L414.8 149L419.4 183.3Z" fill="#000099"/>
<path d="M396.8 129.7L392.2 125.5L396.7 125.4L401.3 128.1Z" fill="#e8ff17"/>
<path d="M387.7 128.9L383.1 124.6L387.6 121.8L392.2 125.5Z" fill="#f1ff0e"/>
<path d="M369.6 103.9L365 121.3L369.5 118.7L374.1 112.7Z" fill="#ff0f00"/>
<path d="M351.5 126.1L346.9 123.7L351.4 139.9L356 123.5Z" fill="#fff000"/>
<path d="M333.3 119L328.8 103.3L333.3 102.3L337.8 115.7Z" fill="#ffa800"/>
<path d="M324.3 105.9L319.7 119.9L324.2 117.3L328.8 103.3Z" fill="#ff2200"/>
<path d="M306.2 141.8L301.6 134.6L306.1 133.2L310.7 138.2Z" fill="#6eff91"/>
<path d="M423.9 130.6L419.4 183.3L423.9 180.7L428.4 129.2Z" fill="#dfff20"/>
<path d="M378.6 125.6L374.1 112.7L378.6 117.3L383.1 124.6Z" fill="#ffeb00"/>
<path d="M360.5 117.9L356 123.5L360.5 121.7L365 121.3Z" fill="#ff9d00"/>
<path d="M342.4 125.2L337.8 115.7L342.3 114L346.9 123.7Z" fill="#ffe800"/>
<path d="M297.1 137.4L292.5 134.9L297 133.7L301.6 134.6Z" fill="#78ff87"/>
<path d="M419.4 132.7L414.9 187.6L419.4 183.3L423.9 130.6Z" fill="#e0ff1f"/>
<path d="M410.4 188.1L405.8 151.6L410.3 149.8L414.9 187.6Z" fill="#0000aa"/>
<path d="M401.3 151.4L396.8 129.7L401.3 128.1L405.8 151.6Z" fill="#22ffdd"/>
<path d="M319.8 109.2L315.2 129.7L319.7 119.9L324.3 105.9Z" fill="#ff2d00"/>
<path d="M310.7 139.5L306.2 141.8L310.7 138.2L315.2 129.7Z" fill="#9cff63"/>
<path d="M301.7 144.5L297.1 137.4L301.6 134.6L306.2 141.8Z" fill="#6aff95"/>
<path d="M392.3 131.8L387.7 128.9L392.2 125.5L396.8 129.7Z" fill="#eaff15"/>
<path d="M383.2 132.5L378.6 125.6L383.1 124.6L387.7 128.9Z" fill="#e2ff1d"/>
<path d="M374.1 128L369.6 103.9L374.1 112.7L378.6 125.6Z" fill="#ffee00"/>
<path d="M365.1 108.9L360.5 117.9L365 121.3L369.6 103.9Z" fill="#ff2b00"/>
<path d="M356 117.2L351.5 126.1L356 123.5L360.5 117.9Z" fill="#ff7f00"/>
<path d="M347 127.7L342.4 125.2L346.9 123.7L351.5 126.1Z" fill="#ffea00"/>
<path d="M337.9 127.5L333.3 119L337.8 115.7L342.4 125.2Z" fill="#ffe800"/>
<path d="M328.8 122.2L324.3 105.9L328.8 103.3L333.3 119Z" fill="#ffb100"/>
<path d="M414.9 138.8L410.4 188.1L414.9 187.6L419.4 132.7Z" fill="#b8ff47"/>
<path d="M405.9 191.7L401.3 151.4L405.8 151.6L410.4 188.1Z" fill="#00009c"/>
<path d="M396.8 155.4L392.3 131.8L396.8 129.7L401.3 151.4Z" fill="#10ffef"/>
<path d="M378.7 133.4L374.1 128L378.6 125.6L383.2 132.5Z" fill="#f1ff0e"/>
<path d="M360.6 120L356 117.2L360.5 117.9L365.1 108.9Z" fill="#ff8600"/>
<path d="M342.5 130.6L337.9 127.5L342.4 125.2L347 127.7Z" fill="#fff100"/>
<path d="M324.3 125.4L319.8 109.2L324.3 105.9L328.8 122.2Z" fill="#ffbc00"/>
<path d="M315.3 111.1L310.7 139.5L315.2 129.7L319.8 109.2Z" fill="#ff2900"/>
<path d="M306.2 146L301.7 144.5L306.2 141.8L310.7 139.5Z" fill="#71ff8e"/>
<path d="M387.8 134.1L383.2 132.5L387.7 128.9L392.3 131.8Z" fill="#e9ff16"/>
<path d="M369.6 131L365.1 108.9L369.6 103.9L374.1 128Z" fill="#fff600"/>
<path d="M351.5 119.1L347 127.7L351.5 126.1L356 117.2Z" fill="#ff7c00"/>
<path d="M333.4 130.5L328.8 122.2L333.3 119L337.9 127.5Z" fill="#fff000"/>
<path d="M410.4 98.8L405.9 191.7L410.4 188.1L414.9 138.8Z" fill="#950000"/>
<path d="M401.4 193.8L396.8 155.4L401.3 151.4L405.9 191.7Z" fill="#00009d"/>
<path d="M392.3 157.3L387.8 134.1L392.3 131.8L396.8 155.4Z" fill="#14ffeb"/>
<path d="M383.3 135.6L378.7 133.4L383.2 132.5L387.8 134.1Z" fill="#f1ff0e"/>
<path d="M374.2 135.5L369.6 131L374.1 128L378.7 133.4Z" fill="#f1ff0e"/>
<path d="M365.1 132.8L360.6 120L365.1 108.9L369.6 131Z" fill="#fff100"/>
<path d="M356.1 133.1L351.5 119.1L356 117.2L360.6 120Z" fill="#fff400"/>
<path d="M347 120.3L342.5 130.6L347 127.7L351.5 119.1Z" fill="#ff7100"/>
<path d="M338 133.9L333.4 130.5L337.9 127.5L342.5 130.6Z" fill="#fffc00"/>
<path d="M328.9 131.7L324.3 125.4L328.8 122.2L333.4 130.5Z" fill="#ffe500"/>
<path d="M319.8 126.4L315.3 111.1L319.8 109.2L324.3 125.4Z" fill="#ffb000"/>
<path d="M310.8 114.4L306.2 146L310.7 139.5L315.3 111.1Z" fill="#ff3500"/>
<path d="M369.7 137.2L365.1 132.8L369.6 131L374.2 135.5Z" fill="#f7ff08"/>
<path d="M351.6 114L347 120.3L351.5 119.1L356.1 133.1Z" fill="#ff1a00"/>
<path d="M405.9 100.3L401.4 193.8L405.9 191.7L410.4 98.8Z" fill="#8e0000"/>
<path d="M396.9 160.9L392.3 157.3L396.8 155.4L401.4 193.8Z" fill="#06fff9"/>
<path d="M387.8 159.4L383.3 135.6L387.8 134.1L392.3 157.3Z" fill="#15ffea"/>
<path d="M378.8 137L374.2 135.5L378.7 133.4L383.3 135.6Z" fill="#faff05"/>
<path d="M360.6 134.4L356.1 133.1L360.6 120L365.1 132.8Z" fill="#ffea00"/>
<path d="M342.5 135.9L338 133.9L342.5 130.6L347 120.3Z" fill="#fffa00"/>
<path d="M333.5 137.8L328.9 131.7L333.4 130.5L338 133.9Z" fill="#f1ff0e"/>
<path d="M324.4 133.6L319.8 126.4L324.3 125.4L328.9 131.7Z" fill="#ffe200"/>
<path d="M315.3 125.2L310.8 114.4L315.3 111.1L319.8 126.4Z" fill="#ff8c00"/>
<path d="M392.4 163.9L387.8 159.4L392.3 157.3L396.9 160.9Z" fill="#00fdff"/>
<path d="M374.3 138L369.7 137.2L374.2 135.5L378.8 137Z" fill="#fff800"/>
<path d="M365.2 140L360.6 134.4L365.1 132.8L369.7 137.2Z" fill="#f2ff0d"/>
<path d="M356.1 136.8L351.6 114L356.1 133.1L360.6 134.4Z" fill="#ffec00"/>
<path d="M347.1 113.8L342.5 135.9L347 120.3L351.6 114Z" fill="#ff0200"/>
<path d="M329 139.4L324.4 133.6L328.9 131.7L333.5 137.8Z" fill="#f8ff07"/>
<path d="M401.4 157.3L396.9 160.9L401.4 193.8L405.9 100.3Z" fill="#41ffbe"/>
<path d="M383.3 161.7L378.8 137L383.3 135.6L387.8 159.4Z" fill="#14ffeb"/>
<path d="M338 137.9L333.5 137.8L338 133.9L342.5 135.9Z" fill="#fff700"/>
<path d="M319.9 137.5L315.3 125.2L319.8 126.4L324.4 133.6Z" fill="#fff200"/>
<path d="M396.9 159.8L392.4 163.9L396.9 160.9L401.4 157.3Z" fill="#3effc1"/>
<path d="M378.8 164.8L374.3 138L378.8 137L383.3 161.7Z" fill="#0bfff4"/>
<path d="M360.7 142.5L356.1 136.8L360.6 134.4L365.2 140Z" fill="#efff10"/>
<path d="M342.6 117.8L338 137.9L342.5 135.9L347.1 113.8Z" fill="#ff1400"/>
<path d="M324.5 142.3L319.9 137.5L324.4 133.6L329 139.4Z" fill="#f1ff0e"/>
<path d="M387.9 164L383.3 161.7L387.8 159.4L392.4 163.9Z" fill="#14ffeb"/>
<path d="M369.8 140.1L365.2 140L369.7 137.2L374.3 138Z" fill="#fff700"/>
<path d="M351.6 138.6L347.1 113.8L351.6 114L356.1 136.8Z" fill="#ffe800"/>
<path d="M333.5 143.7L329 139.4L333.5 137.8L338 137.9Z" fill="#e3ff1c"/>
<path d="M383.4 166.7L378.8 164.8L383.3 161.7L387.9 164Z" fill="#0ffff0"/>
<path d="M365.3 143.2L360.7 142.5L365.2 140L369.8 140.1Z" fill="#feff01"/>
<path d="M356.2 144.8L351.6 138.6L356.1 136.8L360.7 142.5Z" fill="#eeff11"/>
<path d="M338.1 120.2L333.5 143.7L338 137.9L342.6 117.8Z" fill="#ff1500"/>
<path d="M392.4 164.1L387.9 164L392.4 163.9L396.9 159.8Z" fill="#29ffd6"/>
<path d="M374.3 165.5L369.8 140.1L374.3 138L378.8 164.8Z" fill="#1bffe4"/>
<path d="M347.1 139.9L342.6 117.8L347.1 113.8L351.6 138.6Z" fill="#ffde00"/>
<path d="M329 145.1L324.5 142.3L329 139.4L333.5 143.7Z" fill="#ebff14"/>
<path d="M387.9 165.1L383.4 166.7L387.9 164L392.4 164.1Z" fill="#36ffc9"/>
<path d="M369.8 167.7L365.3 143.2L369.8 140.1L374.3 165.5Z" fill="#1bffe4"/>
<path d="M360.8 146.3L356.2 144.8L360.7 142.5L365.3 143.2Z" fill="#f6ff09"/>
<path d="M351.7 147.5L347.1 139.9L351.6 138.6L356.2 144.8Z" fill="#eaff15"/>
<path d="M333.6 122.9L329 145.1L333.5 143.7L338.1 120.2Z" fill="#ff1a00"/>
<path d="M378.9 169.6L374.3 165.5L378.8 164.8L383.4 166.7Z" fill="#09fff6"/>
<path d="M342.6 143.4L338.1 120.2L342.6 117.8L347.1 139.9Z" fill="#ffea00"/>
<path d="M374.4 172.3L369.8 167.7L374.3 165.5L378.9 169.6Z" fill="#03fffc"/>
<path d="M365.3 170.8L360.8 146.3L365.3 143.2L369.8 167.7Z" fill="#13ffec"/>
<path d="M356.3 149L351.7 147.5L356.2 144.8L360.8 146.3Z" fill="#f1ff0e"/>
<path d="M347.2 148.8L342.6 143.4L347.1 139.9L351.7 147.5Z" fill="#f3ff0c"/>
<path d="M383.4 167.1L378.9 169.6L383.4 166.7L387.9 165.1Z" fill="#38ffc7"/>
<path d="M338.1 145.3L333.6 122.9L338.1 120.2L342.6 143.4Z" fill="#ffe800"/>
<path d="M378.9 171.7L374.4 172.3L378.9 169.6L383.4 167.1Z" fill="#20ffdf"/>
<path d="M342.7 165.4L338.1 145.3L342.6 143.4L347.2 148.8Z" fill="#61ff9e"/>
<path d="M369.9 173.3L365.3 170.8L369.8 167.7L374.4 172.3Z" fill="#10ffef"/>
<path d="M360.8 172.3L356.3 149L360.8 146.3L365.3 170.8Z" fill="#1bffe4"/>
<path d="M351.8 151L347.2 148.8L351.7 147.5L356.3 149Z" fill="#f4ff0b"/>
<path d="M374.4 174.4L369.9 173.3L374.4 172.3L378.9 171.7Z" fill="#1bffe4"/>
<path d="M347.3 154.4L342.7 165.4L347.2 148.8L351.8 151Z" fill="#e7ff18"/>
<path d="M365.4 177.4L360.8 172.3L365.3 170.8L369.9 173.3Z" fill="#00fdff"/>
<path d="M356.3 175.5L351.8 151L356.3 149L360.8 172.3Z" fill="#11ffee"/>
<path d="M369.9 175.3L365.4 177.4L369.9 173.3L374.4 174.4Z" fill="#29ffd6"/>
<path d="M360.9 177.9L356.3 175.5L360.8 172.3L365.4 177.4Z" fill="#0ffff0"/>
<path d="M351.8 176.5L347.3 154.4L351.8 151L356.3 175.5Z" fill="#1dffe2"/>
<path d="M365.4 179.2L360.9 177.9L365.4 177.4L369.9 175.3Z" fill="#19ffe6"/>
<path d="M356.4 181.1L351.8 176.5L356.3 175.5L360.9 177.9Z" fill="#05fffa"/>
<path d="M360.9 181.8L356.4 181.1L360.9 177.9L365.4 179.2Z" fill="#15ffea"/>
</g>
<defs><linearGradient id="cb2" x1="0" y1="0" x2="0" y2="1"><stop offset="0%" stop-color="#800000"/><stop offset="6.2%" stop-color="#bf0000"/><stop offset="12.5%" stop-color="#ff0000"/><stop offset="18.8%" stop-color="#ff4000"/><stop offset="25%" stop-color="#ff8000"/><stop offset="31.2%" stop-color="#ffbf00"/><stop offset="37.5%" stop-color="#ffff00"/><stop offset="43.8%" stop-color="#bfff40"/><stop offset="50%" stop-color="#80ff80"/><stop offset="56.2%" stop-color="#40ffbf"/><stop offset="62.5%" stop-color="#00ffff"/><stop offset="68.8%" stop-color="#00bfff"/><stop offset="75%" stop-color="#0080ff"/><stop offset="81.2%" stop-color="#0040ff"/><stop offset="87.5%" stop-color="#0000ff"/><stop offset="93.8%" stop-color="#0000bf"/><stop offset="100%" stop-color="#000080"/></linearGradient></defs>
<rect x="456" y="31.7" width="5.6" height="208.6" fill="url(#cb2)" stroke="#555" stroke-width="0.3"/>
<text transform="translate(463.1 58.5) scale(0.6 1)" class="c" text-anchor="start">1</text>
<text transform="translate(463.1 94) scale(0.6 1)" class="c" text-anchor="start">0.5</text>
<text transform="translate(463.1 129.5) scale(0.6 1)" class="c" text-anchor="start">0</text>
<text transform="translate(463.1 165) scale(0.6 1)" class="c" text-anchor="start">-0.5</text>
<text transform="translate(463.1 200.5) scale(0.6 1)" class="c" text-anchor="start">-1</text>
<text transform="translate(463.1 236) scale(0.6 1)" class="c" text-anchor="start">-1.5</text>
<path d="M361.7 523.7L448.3 495.4M361.7 523.7L273.6 496.3M273.6 496.3L273.6 337.5M448.3 495.4L448.3 336.6M352.9 521L439.5 492.7M370.4 520.9L282.3 493.5M282.3 493.5L282.3 334.7M439.5 492.7L439.5 333.9M344.1 518.2L430.7 489.9M379 518L290.9 490.6M290.9 490.6L290.9 331.8M430.7 489.9L430.7 331.1M335.3 515.5L421.9 487.2M387.7 515.2L299.6 487.8M299.6 487.8L299.6 329M421.9 487.2L421.9 328.4M326.5 512.7L413.1 484.4M396.3 512.4L308.2 485M308.2 485L308.2 326.2M413.1 484.4L413.1 325.6M317.6 510L404.2 481.7M405 509.6L316.9 482.1M316.9 482.1L316.9 323.3M404.2 481.7L404.2 322.9M308.8 507.3L395.4 479M413.7 506.7L325.6 479.3M325.6 479.3L325.6 320.5M395.4 479L395.4 320.2M300 504.5L386.6 476.2M422.3 503.9L334.2 476.5M334.2 476.5L334.2 317.7M386.6 476.2L386.6 317.4M291.2 501.8L377.8 473.5M431 501.1L342.9 473.7M342.9 473.7L342.9 314.9M377.8 473.5L377.8 314.7M282.4 499L369 470.7M439.6 498.2L351.5 470.8M351.5 470.8L351.5 312M369 470.7L369 311.9M273.6 496.3L360.2 468M448.3 495.4L360.2 468M360.2 468L360.2 309.2M360.2 468L360.2 309.2M273.6 496.3L360.2 468M360.2 468L448.3 495.4M273.6 464.5L360.2 436.2M360.2 436.2L448.3 463.6M273.6 432.8L360.2 404.5M360.2 404.5L448.3 431.9M273.6 401L360.2 372.7M360.2 372.7L448.3 400.1M273.6 369.3L360.2 341M360.2 341L448.3 368.4M273.6 337.5L360.2 309.2M360.2 309.2L448.3 336.6" stroke="#dcdcdc" stroke-width="0.5" fill="none"/>
<path d="M273.6 337.5L273.6 496.3L361.7 523.7L448.3 495.4M361.7 523.7l-1.2 1.2M361.7 523.7l1.2 1.2M352.9 521l-1.2 1.2M370.4 520.9l1.2 1.2M344.1 518.2l-1.2 1.2M379 518l1.2 1.2M335.3 515.5l-1.2 1.2M387.7 515.2l1.2 1.2M326.5 512.7l-1.2 1.2M396.3 512.4l1.2 1.2M317.6 510l-1.2 1.2M405 509.6l1.2 1.2M308.8 507.3l-1.2 1.2M413.7 506.7l1.2 1.2M300 504.5l-1.2 1.2M422.3 503.9l1.2 1.2M291.2 501.8l-1.2 1.2M431 501.1l1.2 1.2M282.4 499l-1.2 1.2M439.6 498.2l1.2 1.2M273.6 496.3l-1.2 1.2M448.3 495.4l1.2 1.2M273.6 496.3l-1.5 0M273.6 464.5l-1.5 0M273.6 432.8l-1.5 0M273.6 401l-1.5 0M273.6 369.3l-1.5 0M273.6 337.5l-1.5 0" stroke="#444" stroke-width="0.6" fill="none"/>
<text transform="translate(357.5 531.7) scale(0.6 1)" class="t" text-anchor="middle">0</text>
<text transform="translate(366.2 531.7) scale(0.6 1)" class="t" text-anchor="middle">0</text>
<text transform="translate(348.7 529) scale(0.6 1)" class="t" text-anchor="middle">0.1</text>
<text transform="translate(374.9 528.9) scale(0.6 1)" class="t" text-anchor="middle">0.1</text>
<text transform="translate(339.9 526.2) scale(0.6 1)" class="t" text-anchor="middle">0.2</text>
<text transform="translate(383.5 526) scale(0.6 1)" class="t" text-anchor="middle">0.2</text>
<text transform="translate(331.1 523.5) scale(0.6 1)" class="t" text-anchor="middle">0.3</text>
<text transform="translate(392.2 523.2) scale(0.6 1)" class="t" text-anchor="middle">0.3</text>
<text transform="translate(322.3 520.7) scale(0.6 1)" class="t" text-anchor="middle">0.4</text>
<text transform="translate(400.8 520.4) scale(0.6 1)" class="t" text-anchor="middle">0.4</text>
<text transform="translate(313.4 518) scale(0.6 1)" class="t" text-anchor="middle">0.5</text>
<text transform="translate(409.5 517.5) scale(0.6 1)" class="t" text-anchor="middle">0.5</text>
<text transform="translate(304.6 515.3) scale(0.6 1)" class="t" text-anchor="middle">0.6</text>
<text transform="translate(418.2 514.7) scale(0.6 1)" class="t" text-anchor="middle">0.6</text>
<text transform="translate(295.8 512.5) scale(0.6 1)" class="t" text-anchor="middle">0.7</text>
<text transform="translate(426.8 511.9) scale(0.6 1)" class="t" text-anchor="middle">0.7</text>
<text transform="translate(287 509.8) scale(0.6 1)" class="t" text-anchor="middle">0.8</text>
<text transform="translate(435.5 509.1) scale(0.6 1)" class="t" text-anchor="middle">0.8</text>
<text transform="translate(278.2 507) scale(0.6 1)" class="t" text-anchor="middle">0.9</text>
<text transform="translate(444.1 506.2) scale(0.6 1)" class="t" text-anchor="middle">0.9</text>
<text transform="translate(269.4 504.3) scale(0.6 1)" class="t" text-anchor="middle">1</text>
<text transform="translate(452.8 503.4) scale(0.6 1)" class="t" text-anchor="middle">1</text>
<text transform="translate(271.1 498) scale(0.6 1)" class="t" text-anchor="end">-0.5</text>
<text transform="translate(271.1 466.2) scale(0.6 1)" class="t" text-anchor="end">0</text>
<text transform="translate(271.1 434.5) scale(0.6 1)" class="t" text-anchor="end">0.5</text>
<text transform="translate(271.1 402.7) scale(0.6 1)" class="t" text-anchor="end">1</text>
<text transform="translate(271.1 371) scale(0.6 1)" class="t" text-anchor="end">1.5</text>
<text transform="translate(271.1 339.2) scale(0.6 1)" class="t" text-anchor="end">2</text>
<text transform="translate(313.9 540.2) scale(0.392 1)" class="a" text-anchor="middle">Quantiles of Economic Growth</text>
<text transform="translate(407 540.2) scale(0.403 1)" class="a" text-anchor="middle">Quantiles of Energy Efficiency</text>
<g stroke="#000" stroke-width="0.55" stroke-linejoin="round">
<path d="M360.2 424.2L355.9 427L360.3 426.9L364.5 422.3Z" fill="#00d8ff"/>
<path d="M364.4 420.1L360.2 424.2L364.5 422.3L368.7 419.2Z" fill="#02fffd"/>
<path d="M355.8 425.2L351.6 429.9L355.9 427L360.2 424.2Z" fill="#00dcff"/>
<path d="M368.6 426.5L364.4 420.1L368.7 419.2L373 423.3Z" fill="#00dbff"/>
<path d="M360.1 423.3L355.8 425.2L360.2 424.2L364.4 420.1Z" fill="#00f4ff"/>
<path d="M351.5 428.4L347.3 431.3L351.6 429.9L355.8 425.2Z" fill="#00ceff"/>
<path d="M372.9 427.6L368.6 426.5L373 423.3L377.2 425Z" fill="#00dcff"/>
<path d="M364.3 427.2L360.1 423.3L364.4 420.1L368.6 426.5Z" fill="#00e0ff"/>
<path d="M355.8 425.2L351.5 428.4L355.8 425.2L360.1 423.3Z" fill="#00f0ff"/>
<path d="M347.2 428.2L343 434.2L347.3 431.3L351.5 428.4Z" fill="#00daff"/>
<path d="M377.1 427.7L372.9 427.6L377.2 425L381.4 427Z" fill="#00e6ff"/>
<path d="M368.5 428.6L364.3 427.2L368.6 426.5L372.9 427.6Z" fill="#00e0ff"/>
<path d="M360 429.6L355.8 425.2L360.1 423.3L364.3 427.2Z" fill="#00d8ff"/>
<path d="M351.4 428.1L347.2 428.2L351.5 428.4L355.8 425.2Z" fill="#00e5ff"/>
<path d="M342.9 430.2L338.6 434.7L343 434.2L347.2 428.2Z" fill="#00d6ff"/>
<path d="M381.3 433.4L377.1 427.7L381.4 427L385.7 434.8Z" fill="#00c5ff"/>
<path d="M372.8 431L368.5 428.6L372.9 427.6L377.1 427.7Z" fill="#00d7ff"/>
<path d="M364.2 431.5L360 429.6L364.3 427.2L368.5 428.6Z" fill="#00d4ff"/>
<path d="M355.7 430.9L351.4 428.1L355.8 425.2L360 429.6Z" fill="#00daff"/>
<path d="M347.1 431.9L342.9 430.2L347.2 428.2L351.4 428.1Z" fill="#00d3ff"/>
<path d="M338.5 433.2L334.3 433.2L338.6 434.7L342.9 430.2Z" fill="#00caff"/>
<path d="M385.6 444.2L381.3 433.4L385.7 434.8L389.9 442.5Z" fill="#007eff"/>
<path d="M377 430L372.8 431L377.1 427.7L381.3 433.4Z" fill="#00e9ff"/>
<path d="M368.5 431.4L364.2 431.5L368.5 428.6L372.8 431Z" fill="#00dfff"/>
<path d="M359.9 434L355.7 430.9L360 429.6L364.2 431.5Z" fill="#00ccff"/>
<path d="M351.3 432.8L347.1 431.9L351.4 428.1L355.7 430.9Z" fill="#00d6ff"/>
<path d="M342.8 432.9L338.5 433.2L342.9 430.2L347.1 431.9Z" fill="#00d6ff"/>
<path d="M334.2 435.4L330 428.9L334.3 433.2L338.5 433.2Z" fill="#00c4ff"/>
<path d="M389.8 446.7L385.6 444.2L389.9 442.5L394.1 445.1Z" fill="#0075ff"/>
<path d="M381.3 454.3L377 430L381.3 433.4L385.6 444.2Z" fill="#003eff"/>
<path d="M372.7 343.1L368.5 431.4L372.8 431L377 430Z" fill="#810000"/>
<path d="M364.1 432L359.9 434L364.2 431.5L368.5 431.4Z" fill="#00e5ff"/>
<path d="M355.6 435.5L351.3 432.8L355.7 430.9L359.9 434Z" fill="#00ccff"/>
<path d="M347 436.1L342.8 432.9L347.1 431.9L351.3 432.8Z" fill="#00c8ff"/>
<path d="M338.4 435.9L334.2 435.4L338.5 433.2L342.8 432.9Z" fill="#00caff"/>
<path d="M329.9 437.1L325.6 428.6L330 428.9L334.2 435.4Z" fill="#00c2ff"/>
<path d="M394 442.5L389.8 446.7L394.1 445.1L398.4 445.6Z" fill="#009fff"/>
<path d="M385.5 448.5L381.3 454.3L385.6 444.2L389.8 446.7Z" fill="#0073ff"/>
<path d="M376.9 452.9L372.7 343.1L377 430L381.3 454.3Z" fill="#0053ff"/>
<path d="M368.4 344.8L364.1 432L368.5 431.4L372.7 343.1Z" fill="#830000"/>
<path d="M359.8 433.7L355.6 435.5L359.9 434L364.1 432Z" fill="#00e3ff"/>
<path d="M351.2 437.6L347 436.1L351.3 432.8L355.6 435.5Z" fill="#00c7ff"/>
<path d="M342.7 439.4L338.4 435.9L342.8 432.9L347 436.1Z" fill="#00baff"/>
<path d="M334.1 437.3L329.9 437.1L334.2 435.4L338.4 435.9Z" fill="#00caff"/>
<path d="M325.5 439.1L321.3 429.5L325.6 428.6L329.9 437.1Z" fill="#00beff"/>
<path d="M398.3 446.8L394 442.5L398.4 445.6L402.6 445.1Z" fill="#0089ff"/>
<path d="M389.7 443L385.5 448.5L389.8 446.7L394 442.5Z" fill="#00a5ff"/>
<path d="M381.2 448.1L376.9 452.9L381.3 454.3L385.5 448.5Z" fill="#0080ff"/>
<path d="M372.6 456.7L368.4 344.8L372.7 343.1L376.9 452.9Z" fill="#0041ff"/>
<path d="M364 345.7L359.8 433.7L364.1 432L368.4 344.8Z" fill="#800000"/>
<path d="M355.5 434.7L351.2 437.6L355.6 435.5L359.8 433.7Z" fill="#00e6ff"/>
<path d="M346.9 439.3L342.7 439.4L347 436.1L351.2 437.6Z" fill="#00c5ff"/>
<path d="M338.3 442.8L334.1 437.3L338.4 435.9L342.7 439.4Z" fill="#00abff"/>
<path d="M329.8 440L325.5 439.1L329.9 437.1L334.1 437.3Z" fill="#00c0ff"/>
<path d="M321.2 440.6L317 430.4L321.3 429.5L325.5 439.1Z" fill="#00bdff"/>
<path d="M402.5 445.2L398.3 446.8L402.6 445.1L406.8 444.9Z" fill="#009eff"/>
<path d="M394 449.6L389.7 443L394 442.5L398.3 446.8Z" fill="#007eff"/>
<path d="M385.4 441.5L381.2 448.1L385.5 448.5L389.7 443Z" fill="#00bbff"/>
<path d="M376.8 449.6L372.6 456.7L376.9 452.9L381.2 448.1Z" fill="#007fff"/>
<path d="M368.3 457.9L364 345.7L368.4 344.8L372.6 456.7Z" fill="#0043ff"/>
<path d="M359.7 346.8L355.5 434.7L359.8 433.7L364 345.7Z" fill="#800000"/>
<path d="M351.1 436.9L346.9 439.3L351.2 437.6L355.5 434.7Z" fill="#00e0ff"/>
<path d="M342.6 443.3L338.3 442.8L342.7 439.4L346.9 439.3Z" fill="#00b2ff"/>
<path d="M334 442.5L329.8 440L334.1 437.3L338.3 442.8Z" fill="#00b8ff"/>
<path d="M325.4 441.6L321.2 440.6L325.5 439.1L329.8 440Z" fill="#00bfff"/>
<path d="M316.9 442.8L312.6 428.7L317 430.4L321.2 440.6Z" fill="#00b7ff"/>
<path d="M406.7 439.6L402.5 445.2L406.8 444.9L411.1 436.6Z" fill="#00d2ff"/>
<path d="M398.2 446.8L394 449.6L398.3 446.8L402.5 445.2Z" fill="#009dff"/>
<path d="M389.6 450.1L385.4 441.5L389.7 443L394 449.6Z" fill="#0085ff"/>
<path d="M381.1 439.5L376.8 449.6L381.2 448.1L385.4 441.5Z" fill="#00d4ff"/>
<path d="M372.5 450.6L368.3 457.9L372.6 456.7L376.8 449.6Z" fill="#0082ff"/>
<path d="M363.9 459.2L359.7 346.8L364 345.7L368.3 457.9Z" fill="#0043ff"/>
<path d="M355.4 349.3L351.1 436.9L355.5 434.7L359.7 346.8Z" fill="#850000"/>
<path d="M346.8 437.2L342.6 443.3L346.9 439.3L351.1 436.9Z" fill="#00e9ff"/>
<path d="M338.2 442.5L334 442.5L338.3 442.8L342.6 443.3Z" fill="#00c2ff"/>
<path d="M329.7 444.7L325.4 441.6L329.8 440L334 442.5Z" fill="#00b2ff"/>
<path d="M321.1 445.3L316.9 442.8L321.2 440.6L325.4 441.6Z" fill="#00aeff"/>
<path d="M312.5 446.1L308.3 431.5L312.6 428.7L316.9 442.8Z" fill="#00a9ff"/>
<path d="M411 440L406.7 439.6L411.1 436.6L415.3 437Z" fill="#00d8ff"/>
<path d="M402.4 441.1L398.2 446.8L402.5 445.2L406.7 439.6Z" fill="#00d1ff"/>
<path d="M393.9 448.4L389.6 450.1L394 449.6L398.2 446.8Z" fill="#009bff"/>
<path d="M385.3 450.9L381.1 439.5L385.4 441.5L389.6 450.1Z" fill="#0089ff"/>
<path d="M376.7 440L372.5 450.6L376.8 449.6L381.1 439.5Z" fill="#00dbff"/>
<path d="M368.2 453.5L363.9 459.2L368.3 457.9L372.5 450.6Z" fill="#0077ff"/>
<path d="M359.6 460.7L355.4 349.3L359.7 346.8L363.9 459.2Z" fill="#0042ff"/>
<path d="M351 349.9L346.8 437.2L351.1 436.9L355.4 349.3Z" fill="#800000"/>
<path d="M342.5 440.3L338.2 442.5L342.6 443.3L346.8 437.2Z" fill="#00dcff"/>
<path d="M333.9 448.7L329.7 444.7L334 442.5L338.2 442.5Z" fill="#009eff"/>
<path d="M325.3 448.3L321.1 445.3L325.4 441.6L329.7 444.7Z" fill="#00a2ff"/>
<path d="M316.8 446.7L312.5 446.1L316.9 442.8L321.1 445.3Z" fill="#00aeff"/>
<path d="M308.2 447.8L304 430.8L308.3 431.5L312.5 446.1Z" fill="#00a7ff"/>
<path d="M415.2 442.4L411 440L415.3 437L419.5 441.4Z" fill="#00d0ff"/>
<path d="M406.7 442.9L402.4 441.1L406.7 439.6L411 440Z" fill="#00cdff"/>
<path d="M398.1 442.4L393.9 448.4L398.2 446.8L402.4 441.1Z" fill="#00d2ff"/>
<path d="M389.5 449L385.3 450.9L389.6 450.1L393.9 448.4Z" fill="#00a1ff"/>
<path d="M381 453.8L376.7 440L381.1 439.5L385.3 450.9Z" fill="#007fff"/>
<path d="M372.4 435.2L368.2 453.5L372.5 450.6L376.7 440Z" fill="#0bfff4"/>
<path d="M363.8 453.2L359.6 460.7L363.9 459.2L368.2 453.5Z" fill="#0084ff"/>
<path d="M355.3 462L351 349.9L355.4 349.3L359.6 460.7Z" fill="#0043ff"/>
<path d="M346.7 439.6L342.5 440.3L346.8 437.2L351 349.9Z" fill="#00ebff"/>
<path d="M338.1 441L333.9 448.7L338.2 442.5L342.5 440.3Z" fill="#00e1ff"/>
<path d="M329.6 449.3L325.3 448.3L329.7 444.7L333.9 448.7Z" fill="#00a4ff"/>
<path d="M321 450.3L316.8 446.7L321.1 445.3L325.3 448.3Z" fill="#009eff"/>
<path d="M312.5 448.6L308.2 447.8L312.5 446.1L316.8 446.7Z" fill="#00abff"/>
<path d="M303.9 449.1L299.7 432.6L304 430.8L308.2 447.8Z" fill="#00a8ff"/>
<path d="M419.5 449.7L415.2 442.4L419.5 441.4L423.8 446.9Z" fill="#00a3ff"/>
<path d="M410.9 443.7L406.7 442.9L411 440L415.2 442.4Z" fill="#00d1ff"/>
<path d="M402.3 444.4L398.1 442.4L402.4 441.1L406.7 442.9Z" fill="#00ccff"/>
<path d="M393.8 442.6L389.5 449L393.9 448.4L398.1 442.4Z" fill="#00dbff"/>
<path d="M385.2 451.3L381 453.8L385.3 450.9L389.5 449Z" fill="#009bff"/>
<path d="M376.6 455.8L372.4 435.2L376.7 440L381 453.8Z" fill="#007aff"/>
<path d="M368.1 433.4L363.8 453.2L368.2 453.5L372.4 435.2Z" fill="#22ffdd"/>
<path d="M359.5 455.2L355.3 462L359.6 460.7L363.8 453.2Z" fill="#0080ff"/>
<path d="M350.9 489.6L346.7 439.6L351 349.9L355.3 462Z" fill="#0043ff"/>
<path d="M342.4 442.9L338.1 441L342.5 440.3L346.7 439.6Z" fill="#00ddff"/>
<path d="M333.8 446.5L329.6 449.3L333.9 448.7L338.1 441Z" fill="#00c3ff"/>
<path d="M325.2 449.9L321 450.3L325.3 448.3L329.6 449.3Z" fill="#00abff"/>
<path d="M316.7 451.9L312.5 448.6L316.8 446.7L321 450.3Z" fill="#009cff"/>
<path d="M308.1 450.5L303.9 449.1L308.2 447.8L312.5 448.6Z" fill="#00a7ff"/>
<path d="M299.6 450.4L295.3 434.4L299.7 432.6L303.9 449.1Z" fill="#00a9ff"/>
<path d="M423.7 454L419.5 449.7L423.8 446.9L428 459.1Z" fill="#008dff"/>
<path d="M415.1 450.4L410.9 443.7L415.2 442.4L419.5 449.7Z" fill="#00a9ff"/>
<path d="M406.6 443.5L402.3 444.4L406.7 442.9L410.9 443.7Z" fill="#00ddff"/>
<path d="M398 449.3L393.8 442.6L398.1 442.4L402.3 444.4Z" fill="#00b3ff"/>
<path d="M389.4 446.7L385.2 451.3L389.5 449L393.8 442.6Z" fill="#00c7ff"/>
<path d="M380.9 452.2L376.6 455.8L381 453.8L385.2 451.3Z" fill="#009eff"/>
<path d="M372.3 455.4L368.1 433.4L372.4 435.2L376.6 455.8Z" fill="#0088ff"/>
<path d="M363.7 434.9L359.5 455.2L363.8 453.2L368.1 433.4Z" fill="#22ffdd"/>
<path d="M355.2 455.5L350.9 489.6L355.3 462L359.5 455.2Z" fill="#0088ff"/>
<path d="M346.6 458.6L342.4 442.9L346.7 439.6L350.9 489.6Z" fill="#0071ff"/>
<path d="M338 447.4L333.8 446.5L338.1 441L342.4 442.9Z" fill="#00c6ff"/>
<path d="M329.5 447.7L325.2 449.9L329.6 449.3L333.8 446.5Z" fill="#00c4ff"/>
<path d="M320.9 454L316.7 451.9L321 450.3L325.2 449.9Z" fill="#0096ff"/>
<path d="M312.4 449.8L308.1 450.5L312.5 448.6L316.7 451.9Z" fill="#00b6ff"/>
<path d="M303.8 451.7L299.6 450.4L303.9 449.1L308.1 450.5Z" fill="#00a9ff"/>
<path d="M295.2 453.7L291 436.8L295.3 434.4L299.6 450.4Z" fill="#009bff"/>
<path d="M427.9 478.5L423.7 454L428 459.1L432.2 478.2Z" fill="#0000e0"/>
<path d="M419.4 449.4L415.1 450.4L419.5 449.7L423.7 454Z" fill="#00baff"/>
<path d="M410.8 450.2L406.6 443.5L410.9 443.7L415.1 450.4Z" fill="#00b5ff"/>
<path d="M402.2 444L398 449.3L402.3 444.4L406.6 443.5Z" fill="#00e4ff"/>
<path d="M393.7 451.7L389.4 446.7L393.8 442.6L398 449.3Z" fill="#00abff"/>
<path d="M385.1 446.9L380.9 452.2L385.2 451.3L389.4 446.7Z" fill="#00d0ff"/>
<path d="M376.5 453.5L372.3 455.4L376.6 455.8L380.9 452.2Z" fill="#009fff"/>
<path d="M368 457.2L363.7 434.9L368.1 433.4L372.3 455.4Z" fill="#0084ff"/>
<path d="M359.4 437.2L355.2 455.5L359.5 455.2L363.7 434.9Z" fill="#1bffe4"/>
<path d="M350.8 456.5L346.6 458.6L350.9 489.6L355.2 455.5Z" fill="#008bff"/>
<path d="M342.3 459.6L338 447.4L342.4 442.9L346.6 458.6Z" fill="#0075ff"/>
<path d="M333.7 450L329.5 447.7L333.8 446.5L338 447.4Z" fill="#00bdff"/>
<path d="M325.2 451.3L320.9 454L325.2 449.9L329.5 447.7Z" fill="#00b4ff"/>
<path d="M316.6 454.3L312.4 449.8L316.7 451.9L320.9 454Z" fill="#009eff"/>
<path d="M308 447.2L303.8 451.7L308.1 450.5L312.4 449.8Z" fill="#00d4ff"/>
<path d="M299.5 453.5L295.2 453.7L299.6 450.4L303.8 451.7Z" fill="#00a6ff"/>
<path d="M290.9 453.6L286.7 434.5L291 436.8L295.2 453.7Z" fill="#00a6ff"/>
<path d="M432.2 462.2L427.9 478.5L432.2 478.2L436.5 460.7Z" fill="#0064ff"/>
<path d="M423.6 480.1L419.4 449.4L423.7 454L427.9 478.5Z" fill="#0000de"/>
<path d="M415 451.7L410.8 450.2L415.1 450.4L419.4 449.4Z" fill="#00b4ff"/>
<path d="M406.5 453.5L402.2 444L406.6 443.5L410.8 450.2Z" fill="#00a7ff"/>
<path d="M397.9 446.2L393.7 451.7L398 449.3L402.2 444Z" fill="#00deff"/>
<path d="M389.3 453.9L385.1 446.9L389.4 446.7L393.7 451.7Z" fill="#00a5ff"/>
<path d="M380.8 447.7L376.5 453.5L380.9 452.2L385.1 446.9Z" fill="#00d4ff"/>
<path d="M372.2 454.6L368 457.2L372.3 455.4L376.5 453.5Z" fill="#00a2ff"/>
<path d="M363.6 458.3L359.4 437.2L363.7 434.9L368 457.2Z" fill="#0087ff"/>
<path d="M355.1 436.8L350.8 456.5L355.2 455.5L359.4 437.2Z" fill="#29ffd6"/>
<path d="M346.5 457.6L342.3 459.6L346.6 458.6L350.8 456.5Z" fill="#008dff"/>
<path d="M338 460.2L333.7 450L338 447.4L342.3 459.6Z" fill="#007bff"/>
<path d="M329.4 456L325.2 451.3L329.5 447.7L333.7 450Z" fill="#009bff"/>
<path d="M320.8 454.2L316.6 454.3L320.9 454L325.2 451.3Z" fill="#00a9ff"/>
<path d="M312.3 456.4L308 447.2L312.4 449.8L316.6 454.3Z" fill="#0099ff"/>
<path d="M303.7 446.9L299.5 453.5L303.8 451.7L308 447.2Z" fill="#00e1ff"/>
<path d="M295.1 454.5L290.9 453.6L295.2 453.7L299.5 453.5Z" fill="#00a9ff"/>
<path d="M286.6 454.6L282.3 432.9L286.7 434.5L290.9 453.6Z" fill="#00a9ff"/>
<path d="M427.8 464.3L423.6 480.1L427.9 478.5L432.2 462.2Z" fill="#005fff"/>
<path d="M419.3 479.4L415 451.7L419.4 449.4L423.6 480.1Z" fill="#0000ee"/>
<path d="M410.7 449.3L406.5 453.5L410.8 450.2L415 451.7Z" fill="#00d0ff"/>
<path d="M402.1 454.8L397.9 446.2L402.2 444L406.5 453.5Z" fill="#00a7ff"/>
<path d="M393.6 448.2L389.3 453.9L393.7 451.7L397.9 446.2Z" fill="#00daff"/>
<path d="M385 454.8L380.8 447.7L385.1 446.9L389.3 453.9Z" fill="#00a9ff"/>
<path d="M376.4 451.5L372.2 454.6L376.5 453.5L380.8 447.7Z" fill="#00c3ff"/>
<path d="M367.9 456.8L363.6 458.3L368 457.2L372.2 454.6Z" fill="#009cff"/>
<path d="M359.3 458.6L355.1 436.8L359.4 437.2L363.6 458.3Z" fill="#008fff"/>
<path d="M350.7 442.3L346.5 457.6L350.8 456.5L355.1 436.8Z" fill="#0bfff4"/>
<path d="M342.2 459L338 460.2L342.3 459.6L346.5 457.6Z" fill="#008eff"/>
<path d="M333.6 461.6L329.4 456L333.7 450L338 460.2Z" fill="#007bff"/>
<path d="M325.1 457.8L320.8 454.2L325.2 451.3L329.4 456Z" fill="#0098ff"/>
<path d="M316.5 456.9L312.3 456.4L316.6 454.3L320.8 454.2Z" fill="#009fff"/>
<path d="M307.9 455.9L303.7 446.9L308 447.2L312.3 456.4Z" fill="#00a8ff"/>
<path d="M299.4 448.9L295.1 454.5L299.5 453.5L303.7 446.9Z" fill="#00ddff"/>
<path d="M290.8 455.4L286.6 454.6L290.9 453.6L295.1 454.5Z" fill="#00adff"/>
<path d="M423.5 465.3L419.3 479.4L423.6 480.1L427.8 464.3Z" fill="#0062ff"/>
<path d="M414.9 481.2L410.7 449.3L415 451.7L419.3 479.4Z" fill="#0000eb"/>
<path d="M406.4 451L402.1 454.8L406.5 453.5L410.7 449.3Z" fill="#00ceff"/>
<path d="M397.8 455L393.6 448.2L397.9 446.2L402.1 454.8Z" fill="#00b1ff"/>
<path d="M389.2 447.2L385 454.8L389.3 453.9L393.6 448.2Z" fill="#00ecff"/>
<path d="M380.7 455.9L376.4 451.5L380.8 447.7L385 454.8Z" fill="#00acff"/>
<path d="M372.1 453L367.9 456.8L372.2 454.6L376.4 451.5Z" fill="#00c2ff"/>
<path d="M363.5 458.1L359.3 458.6L363.6 458.3L367.9 456.8Z" fill="#009cff"/>
<path d="M355 460.7L350.7 442.3L355.1 436.8L359.3 458.6Z" fill="#008aff"/>
<path d="M346.4 447.5L342.2 459L346.5 457.6L350.7 442.3Z" fill="#00edff"/>
<path d="M337.9 460.5L333.6 461.6L338 460.2L342.2 459Z" fill="#008dff"/>
<path d="M329.3 460.9L325.1 457.8L329.4 456L333.6 461.6Z" fill="#008aff"/>
<path d="M320.7 460.5L316.5 456.9L320.8 454.2L325.1 457.8Z" fill="#008eff"/>
<path d="M312.2 460.7L307.9 455.9L312.3 456.4L316.5 456.9Z" fill="#008eff"/>
<path d="M303.6 459.4L299.4 448.9L303.7 446.9L307.9 455.9Z" fill="#0098ff"/>
<path d="M295 450.6L290.8 455.4L295.1 454.5L299.4 448.9Z" fill="#00dbff"/>
<path d="M419.2 467L414.9 481.2L419.3 479.4L423.5 465.3Z" fill="#0060ff"/>
<path d="M410.6 483L406.4 451L410.7 449.3L414.9 481.2Z" fill="#0000e8"/>
<path d="M402 450.5L397.8 455L402.1 454.8L406.4 451Z" fill="#00dcff"/>
<path d="M393.5 456.6L389.2 447.2L393.6 448.2L397.8 455Z" fill="#00b0ff"/>
<path d="M384.9 449.1L380.7 455.9L385 454.8L389.2 447.2Z" fill="#00e8ff"/>
<path d="M376.3 457.9L372.1 453L376.4 451.5L380.7 455.9Z" fill="#00a7ff"/>
<path d="M367.8 454.7L363.5 458.1L367.9 456.8L372.1 453Z" fill="#00c0ff"/>
<path d="M359.2 459.1L355 460.7L359.3 458.6L363.5 458.1Z" fill="#00a0ff"/>
<path d="M350.7 461.9L346.4 447.5L350.7 442.3L355 460.7Z" fill="#008bff"/>
<path d="M342.1 453.7L337.9 460.5L342.2 459L346.4 447.5Z" fill="#00caff"/>
<path d="M333.5 461.9L329.3 460.9L333.6 461.6L337.9 460.5Z" fill="#008dff"/>
<path d="M325 466.2L320.7 460.5L325.1 457.8L329.3 460.9Z" fill="#006eff"/>
<path d="M316.4 464.2L312.2 460.7L316.5 456.9L320.7 460.5Z" fill="#007dff"/>
<path d="M307.8 464.4L303.6 459.4L307.9 455.9L312.2 460.7Z" fill="#007dff"/>
<path d="M299.3 460.7L295 450.6L299.4 448.9L303.6 459.4Z" fill="#0099ff"/>
<path d="M414.8 467.2L410.6 483L414.9 481.2L419.2 467Z" fill="#0069ff"/>
<path d="M406.3 483.9L402 450.5L406.4 451L410.6 483Z" fill="#0000ec"/>
<path d="M397.7 454.7L393.5 456.6L397.8 455L402 450.5Z" fill="#00c8ff"/>
<path d="M389.1 457.4L384.9 449.1L389.2 447.2L393.5 456.6Z" fill="#00b4ff"/>
<path d="M380.6 451.3L376.3 457.9L380.7 455.9L384.9 449.1Z" fill="#00e2ff"/>
<path d="M372 458L367.8 454.7L372.1 453L376.3 457.9Z" fill="#00b1ff"/>
<path d="M363.4 454.6L359.2 459.1L363.5 458.1L367.8 454.7Z" fill="#00cbff"/>
<path d="M354.9 461.2L350.7 461.9L355 460.7L359.2 459.1Z" fill="#009bff"/>
<path d="M346.3 463L342.1 453.7L346.4 447.5L350.7 461.9Z" fill="#008eff"/>
<path d="M337.8 457.7L333.5 461.9L337.9 460.5L342.1 453.7Z" fill="#00b7ff"/>
<path d="M329.2 468.2L325 466.2L329.3 460.9L333.5 461.9Z" fill="#0069ff"/>
<path d="M320.6 470.6L316.4 464.2L320.7 460.5L325 466.2Z" fill="#0057ff"/>
<path d="M312.1 468.9L307.8 464.4L312.2 460.7L316.4 464.2Z" fill="#0065ff"/>
<path d="M303.5 467.9L299.3 460.7L303.6 459.4L307.8 464.4Z" fill="#006dff"/>
<path d="M410.5 471.5L406.3 483.9L410.6 483L414.8 467.2Z" fill="#0054ff"/>
<path d="M401.9 484.6L397.7 454.7L402 450.5L406.3 483.9Z" fill="#0000f2"/>
<path d="M393.4 455.8L389.1 457.4L393.5 456.6L397.7 454.7Z" fill="#00caff"/>
<path d="M384.8 458.8L380.6 451.3L384.9 449.1L389.1 457.4Z" fill="#00b5ff"/>
<path d="M376.2 452L372 458L376.3 457.9L380.6 451.3Z" fill="#00e7ff"/>
<path d="M367.7 457.7L363.4 454.6L367.8 454.7L372 458Z" fill="#00beff"/>
<path d="M359.1 456.5L354.9 461.2L359.2 459.1L363.4 454.6Z" fill="#00c8ff"/>
<path d="M350.6 461.1L346.3 463L350.7 461.9L354.9 461.2Z" fill="#00a6ff"/>
<path d="M342 466.6L337.8 457.7L342.1 453.7L346.3 463Z" fill="#007eff"/>
<path d="M333.4 462.5L329.2 468.2L333.5 461.9L337.8 457.7Z" fill="#009dff"/>
<path d="M324.9 474.3L320.6 470.6L325 466.2L329.2 468.2Z" fill="#0046ff"/>
<path d="M316.3 474.2L312.1 468.9L316.4 464.2L320.6 470.6Z" fill="#0047ff"/>
<path d="M307.7 472.9L303.5 467.9L307.8 464.4L312.1 468.9Z" fill="#0051ff"/>
<path d="M406.2 475.1L401.9 484.6L406.3 483.9L410.5 471.5Z" fill="#0043ff"/>
<path d="M397.6 486.1L393.4 455.8L397.7 454.7L401.9 484.6Z" fill="#0000f1"/>
<path d="M389 457.7L384.8 458.8L389.1 457.4L393.4 455.8Z" fill="#00c6ff"/>
<path d="M380.5 460.1L376.2 452L380.6 451.3L384.8 458.8Z" fill="#00b5ff"/>
<path d="M371.9 452.7L367.7 457.7L372 458L376.2 452Z" fill="#00edff"/>
<path d="M363.4 458.8L359.1 456.5L363.4 454.6L367.7 457.7Z" fill="#00c0ff"/>
<path d="M354.8 455.5L350.6 461.1L354.9 461.2L359.1 456.5Z" fill="#00daff"/>
<path d="M346.2 461.3L342 466.6L346.3 463L350.6 461.1Z" fill="#00afff"/>
<path d="M337.7 467.9L333.4 462.5L337.8 457.7L342 466.6Z" fill="#007fff"/>
<path d="M329.1 471L324.9 474.3L329.2 468.2L333.4 462.5Z" fill="#0068ff"/>
<path d="M320.5 479L316.3 474.2L320.6 470.6L324.9 474.3Z" fill="#002dff"/>
<path d="M312 476.6L307.7 472.9L312.1 468.9L316.3 474.2Z" fill="#0040ff"/>
<path d="M401.8 478.8L397.6 486.1L401.9 484.6L406.2 475.1Z" fill="#0032ff"/>
<path d="M393.3 474.8L389 457.7L393.4 455.8L397.6 486.1Z" fill="#0050ff"/>
<path d="M384.7 462.6L380.5 460.1L384.8 458.8L389 457.7Z" fill="#00acff"/>
<path d="M376.2 461.1L371.9 452.7L376.2 452L380.5 460.1Z" fill="#00b8ff"/>
<path d="M367.6 453.1L363.4 458.8L367.7 457.7L371.9 452.7Z" fill="#00f4ff"/>
<path d="M359 458.6L354.8 455.5L359.1 456.5L363.4 458.8Z" fill="#00cdff"/>
<path d="M350.5 456.9L346.2 461.3L350.6 461.1L354.8 455.5Z" fill="#00daff"/>
<path d="M341.9 463.3L337.7 467.9L342 466.6L346.2 461.3Z" fill="#00abff"/>
<path d="M333.3 469.9L329.1 471L333.4 462.5L337.7 467.9Z" fill="#007aff"/>
<path d="M324.8 478.1L320.5 479L324.9 474.3L329.1 471Z" fill="#003eff"/>
<path d="M316.2 480.2L312 476.6L316.3 474.2L320.5 479Z" fill="#002fff"/>
<path d="M397.5 489.1L393.3 474.8L397.6 486.1L401.8 478.8Z" fill="#0000ef"/>
<path d="M388.9 466.6L384.7 462.6L389 457.7L393.3 474.8Z" fill="#0098ff"/>
<path d="M380.4 462.7L376.2 461.1L380.5 460.1L384.7 462.6Z" fill="#00b6ff"/>
<path d="M371.8 463.1L367.6 453.1L371.9 452.7L376.2 461.1Z" fill="#00b4ff"/>
<path d="M363.3 454.9L359 458.6L363.4 458.8L367.6 453.1Z" fill="#00f2ff"/>
<path d="M354.7 454.1L350.5 456.9L354.8 455.5L359 458.6Z" fill="#00f8ff"/>
<path d="M346.1 457.6L341.9 463.3L346.2 461.3L350.5 456.9Z" fill="#00dfff"/>
<path d="M337.6 463.2L333.3 469.9L337.7 467.9L341.9 463.3Z" fill="#00b6ff"/>
<path d="M329 473.1L324.8 478.1L329.1 471L333.3 469.9Z" fill="#006dff"/>
<path d="M320.4 480.9L316.2 480.2L320.5 479L324.8 478.1Z" fill="#0033ff"/>
<path d="M393.2 494.2L388.9 466.6L393.3 474.8L397.5 489.1Z" fill="#0000d3"/>
<path d="M384.6 466.1L380.4 462.7L384.7 462.6L388.9 466.6Z" fill="#00a7ff"/>
<path d="M376.1 465.2L371.8 463.1L376.2 461.1L380.4 462.7Z" fill="#00aeff"/>
<path d="M367.5 464.7L363.3 454.9L367.6 453.1L371.8 463.1Z" fill="#00b3ff"/>
<path d="M358.9 456.1L354.7 454.1L359 458.6L363.3 454.9Z" fill="#0afff5"/>
<path d="M350.4 448.7L346.1 457.6L350.5 456.9L354.7 454.1Z" fill="#2cffd3"/>
<path d="M341.8 455.2L337.6 463.2L341.9 463.3L346.1 457.6Z" fill="#00fbff"/>
<path d="M333.2 462.9L329 473.1L333.3 469.9L337.6 463.2Z" fill="#00c3ff"/>
<path d="M324.7 476L320.4 480.9L324.8 478.1L329 473.1Z" fill="#0062ff"/>
<path d="M388.9 498.7L384.6 466.1L388.9 466.6L393.2 494.2Z" fill="#0000bc"/>
<path d="M380.3 468.6L376.1 465.2L380.4 462.7L384.6 466.1Z" fill="#009eff"/>
<path d="M371.7 467.4L367.5 464.7L371.8 463.1L376.1 465.2Z" fill="#00a8ff"/>
<path d="M363.2 466.9L358.9 456.1L363.3 454.9L367.5 464.7Z" fill="#00adff"/>
<path d="M354.6 455.5L350.4 448.7L354.7 454.1L358.9 456.1Z" fill="#0afff5"/>
<path d="M346 443L341.8 455.2L346.1 457.6L350.4 448.7Z" fill="#61ff9e"/>
<path d="M337.5 452.5L333.2 462.9L337.6 463.2L341.8 455.2Z" fill="#1bffe4"/>
<path d="M328.9 461.3L324.7 476L329 473.1L333.2 462.9Z" fill="#00d9ff"/>
<path d="M384.5 502.5L380.3 468.6L384.6 466.1L388.9 498.7Z" fill="#0000ab"/>
<path d="M376 469.1L371.7 467.4L376.1 465.2L380.3 468.6Z" fill="#00a5ff"/>
<path d="M367.4 469.3L363.2 466.9L367.5 464.7L371.7 467.4Z" fill="#00a4ff"/>
<path d="M358.8 467.1L354.6 455.5L358.9 456.1L363.2 466.9Z" fill="#01fffe"/>
<path d="M350.3 460.4L346 443L350.4 448.7L354.6 455.5Z" fill="#0afff5"/>
<path d="M341.7 441.9L337.5 452.5L341.8 455.2L346 443Z" fill="#74ff8b"/>
<path d="M333.1 451.7L328.9 461.3L333.2 462.9L337.5 452.5Z" fill="#2cffd3"/>
<path d="M380.2 505.5L376 469.1L380.3 468.6L384.5 502.5Z" fill="#00009f"/>
<path d="M371.6 469.7L367.4 469.3L371.7 467.4L376 469.1Z" fill="#00abff"/>
<path d="M363.1 471.2L358.8 467.1L363.2 466.9L367.4 469.3Z" fill="#00a1ff"/>
<path d="M354.5 469.7L350.3 460.4L354.6 455.5L358.8 467.1Z" fill="#01fffe"/>
<path d="M345.9 463L341.7 441.9L346 443L350.3 460.4Z" fill="#0afff5"/>
<path d="M337.4 440.4L333.1 451.7L337.5 452.5L341.7 441.9Z" fill="#abff54"/>
<path d="M375.9 508.5L371.6 469.7L376 469.1L380.2 505.5Z" fill="#000093"/>
<path d="M367.3 471.4L363.1 471.2L367.4 469.3L371.6 469.7Z" fill="#00a9ff"/>
<path d="M358.7 472.4L354.5 469.7L358.8 467.1L363.1 471.2Z" fill="#00a3ff"/>
<path d="M350.2 470.9L345.9 463L350.3 460.4L354.5 469.7Z" fill="#01fffe"/>
<path d="M341.6 471L337.4 440.4L341.7 441.9L345.9 463Z" fill="#0afff5"/>
<path d="M371.5 514.5L367.3 471.4L371.6 469.7L375.9 508.5Z" fill="#000080"/>
<path d="M363 474.1L358.7 472.4L363.1 471.2L367.3 471.4Z" fill="#00a0ff"/>
<path d="M354.4 473.4L350.2 470.9L354.5 469.7L358.7 472.4Z" fill="#00a6ff"/>
<path d="M345.8 472.3L341.6 471L345.9 463L350.2 470.9Z" fill="#01fffe"/>
<path d="M367.2 512.9L363 474.1L367.3 471.4L371.5 514.5Z" fill="#000088"/>
<path d="M358.6 476L354.4 473.4L358.7 472.4L363 474.1Z" fill="#009cff"/>
<path d="M350.1 476L345.8 472.3L350.2 470.9L354.4 473.4Z" fill="#009dff"/>
<path d="M362.9 515.5L358.6 476L363 474.1L367.2 512.9Z" fill="#000080"/>
<path d="M354.3 480.1L350.1 476L354.4 473.4L358.6 476Z" fill="#0088ff"/>
<path d="M358.5 514.8L354.3 480.1L358.6 476L362.9 515.5Z" fill="#00008e"/>
</g>
<defs><linearGradient id="cb4" x1="0" y1="0" x2="0" y2="1"><stop offset="0%" stop-color="#800000"/><stop offset="6.2%" stop-color="#bf0000"/><stop offset="12.5%" stop-color="#ff0000"/><stop offset="18.8%" stop-color="#ff4000"/><stop offset="25%" stop-color="#ff8000"/><stop offset="31.2%" stop-color="#ffbf00"/><stop offset="37.5%" stop-color="#ffff00"/><stop offset="43.8%" stop-color="#bfff40"/><stop offset="50%" stop-color="#80ff80"/><stop offset="56.2%" stop-color="#40ffbf"/><stop offset="62.5%" stop-color="#00ffff"/><stop offset="68.8%" stop-color="#00bfff"/><stop offset="75%" stop-color="#0080ff"/><stop offset="81.2%" stop-color="#0040ff"/><stop offset="87.5%" stop-color="#0000ff"/><stop offset="93.8%" stop-color="#0000bf"/><stop offset="100%" stop-color="#000080"/></linearGradient></defs>
<rect x="452.8" y="309.3" width="5.4" height="214.5" fill="url(#cb4)" stroke="#555" stroke-width="0.3"/>
<text transform="translate(459.7 321.2) scale(0.6 1)" class="c" text-anchor="start">1.6</text>
<text transform="translate(459.7 341.1) scale(0.6 1)" class="c" text-anchor="start">1.4</text>
<text transform="translate(459.7 361) scale(0.6 1)" class="c" text-anchor="start">1.2</text>
<text transform="translate(459.7 381) scale(0.6 1)" class="c" text-anchor="start">1</text>
<text transform="translate(459.7 400.9) scale(0.6 1)" class="c" text-anchor="start">0.8</text>
<text transform="translate(459.7 420.8) scale(0.6 1)" class="c" text-anchor="start">0.6</text>
<text transform="translate(459.7 440.7) scale(0.6 1)" class="c" text-anchor="start">0.4</text>
<text transform="translate(459.7 460.6) scale(0.6 1)" class="c" text-anchor="start">0.2</text>
<text transform="translate(459.7 480.6) scale(0.6 1)" class="c" text-anchor="start">0</text>
<text transform="translate(459.7 500.5) scale(0.6 1)" class="c" text-anchor="start">-0.2</text>
<text transform="translate(459.7 520.4) scale(0.6 1)" class="c" text-anchor="start">-0.4</text>
</svg>
</body></html>
